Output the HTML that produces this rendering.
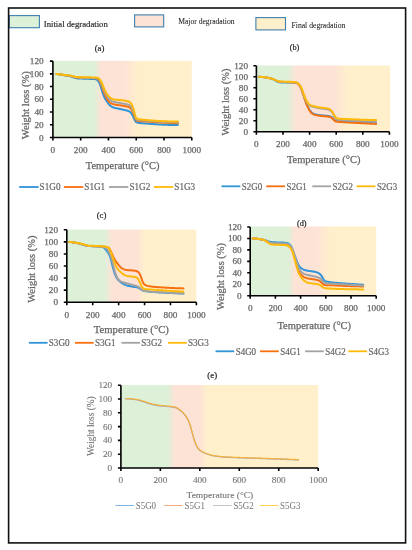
<!DOCTYPE html><html><head><meta charset="utf-8"><style>html,body{margin:0;padding:0;background:#fff;}svg{display:block;will-change:transform;font-family:"Liberation Serif",serif;}</style></head><body>
<svg width="412" height="550" viewBox="0 0 412 550" fill="#666666" stroke-width="0">
<rect x="0" y="0" width="412" height="550" fill="#fff"/>
<rect x="9.3" y="15.6" width="30.1" height="12.1" fill="#DDF0D8" stroke="#3E7FB0" stroke-width="1.1"/>
<rect x="134.6" y="14.9" width="29.1" height="12.0" fill="#FDE3D6" stroke="#3E7FB0" stroke-width="1.1"/>
<rect x="255.9" y="17.6" width="29.6" height="12.3" fill="#FFF0CB" stroke="#3E7FB0" stroke-width="1.1"/>
<text x="43.8" y="26.6" font-size="8.7" textLength="64" lengthAdjust="spacingAndGlyphs" fill="#2a2a2a" stroke="#2a2a2a" stroke-width="0.18">Initial degradation</text>
<text x="178.2" y="24.0" font-size="7.6" textLength="56.4" lengthAdjust="spacingAndGlyphs" fill="#1a1a1a" stroke="#1a1a1a" stroke-width="0.05">Major degradation</text>
<text x="291.5" y="27.5" font-size="7.7" textLength="53.8" lengthAdjust="spacingAndGlyphs" fill="#1a1a1a" stroke="#1a1a1a" stroke-width="0.05">Final degradation</text>
<defs><linearGradient id="bga" gradientUnits="userSpaceOnUse" x1="52.9" y1="0" x2="191.8" y2="0"><stop offset="0%" stop-color="#DDF0D8"/><stop offset="29.81%" stop-color="#DDF0D8"/><stop offset="34.85%" stop-color="#FDE3D6"/><stop offset="51.91%" stop-color="#FDE3D6"/><stop offset="61.99%" stop-color="#FFF0CB"/><stop offset="100%" stop-color="#FFF0CB"/></linearGradient></defs>
<rect x="52.9" y="60.9" width="138.90" height="76.60" fill="url(#bga)"/>
<path d="M56.37,73.88 L56.98,73.94 L57.59,74.02 L58.20,74.11 L58.81,74.21 L59.42,74.30 L60.03,74.40 L60.64,74.50 L61.25,74.61 L61.86,74.71 L62.46,74.82 L63.07,74.93 L63.68,75.04 L64.29,75.15 L64.90,75.26 L65.51,75.37 L66.12,75.49 L66.73,75.60 L67.34,75.72 L67.95,75.84 L68.56,75.95 L69.17,76.08 L69.78,76.20 L70.38,76.33 L70.99,76.48 L71.60,76.63 L72.21,76.82 L72.82,77.03 L73.43,77.26 L74.04,77.51 L74.65,77.75 L75.26,77.96 L75.87,78.12 L76.48,78.24 L77.09,78.32 L77.69,78.38 L78.30,78.42 L78.91,78.46 L79.52,78.50 L80.13,78.53 L80.74,78.55 L81.35,78.58 L81.96,78.60 L82.57,78.62 L83.18,78.64 L83.79,78.66 L84.40,78.68 L85.01,78.70 L85.61,78.72 L86.22,78.74 L86.83,78.77 L87.44,78.79 L88.05,78.82 L88.66,78.84 L89.27,78.86 L89.88,78.88 L90.49,78.90 L91.10,78.91 L91.71,78.93 L92.32,78.95 L92.93,78.98 L93.53,79.01 L94.14,79.04 L94.75,79.09 L95.36,79.17 L95.97,79.31 L96.58,79.57 L97.19,79.99 L97.80,80.59 L98.41,81.35 L99.02,82.30 L99.63,83.50 L100.24,85.04 L100.84,86.89 L101.45,88.93 L102.06,90.97 L102.67,92.86 L103.28,94.58 L103.89,96.13 L104.50,97.50 L105.11,98.70 L105.72,99.74 L106.33,100.67 L106.94,101.55 L107.55,102.41 L108.16,103.26 L108.76,104.05 L109.37,104.76 L109.98,105.37 L110.59,105.88 L111.20,106.32 L111.81,106.69 L112.42,107.01 L113.03,107.28 L113.64,107.50 L114.25,107.70 L114.86,107.88 L115.47,108.04 L116.08,108.18 L116.68,108.32 L117.29,108.44 L117.90,108.56 L118.51,108.68 L119.12,108.80 L119.73,108.91 L120.34,109.04 L120.95,109.17 L121.56,109.30 L122.17,109.44 L122.78,109.59 L123.39,109.73 L123.99,109.86 L124.60,109.99 L125.21,110.13 L125.82,110.27 L126.43,110.41 L127.04,110.58 L127.65,110.76 L128.26,110.98 L128.87,111.23 L129.48,111.54 L130.09,111.96 L130.70,112.56 L131.31,113.35 L131.91,114.32 L132.52,115.41 L133.13,116.60 L133.74,117.88 L134.35,119.23 L134.96,120.50 L135.57,121.50 L136.18,122.14 L136.79,122.48 L137.40,122.66 L138.01,122.79 L138.62,122.88 L139.23,122.96 L139.83,123.03 L140.44,123.09 L141.05,123.14 L141.66,123.19 L142.27,123.23 L142.88,123.28 L143.49,123.33 L144.10,123.38 L144.71,123.43 L145.32,123.48 L145.93,123.52 L146.54,123.57 L147.14,123.62 L147.75,123.67 L148.36,123.72 L148.97,123.76 L149.58,123.81 L150.19,123.86 L150.80,123.90 L151.41,123.95 L152.02,123.99 L152.63,124.04 L153.24,124.08 L153.85,124.12 L154.46,124.16 L155.06,124.21 L155.67,124.25 L156.28,124.29 L156.89,124.33 L157.50,124.37 L158.11,124.40 L158.72,124.44 L159.33,124.48 L159.94,124.51 L160.55,124.55 L161.16,124.58 L161.77,124.62 L162.38,124.65 L162.98,124.68 L163.59,124.71 L164.20,124.74 L164.81,124.77 L165.42,124.79 L166.03,124.82 L166.64,124.84 L167.25,124.87 L167.86,124.89 L168.47,124.91 L169.08,124.93 L169.69,124.95 L170.29,124.97 L170.90,124.99 L171.51,125.00 L172.12,125.02 L172.73,125.03 L173.34,125.04 L173.95,125.05 L174.56,125.06 L175.17,125.07 L175.78,125.07 L176.39,125.08 L177.00,125.08 L177.91,125.08" fill="none" stroke="#3094D8" stroke-width="2.0" stroke-linejoin="round" stroke-linecap="round"/>
<path d="M56.37,73.88 L56.98,73.94 L57.59,74.03 L58.20,74.12 L58.81,74.21 L59.42,74.30 L60.03,74.40 L60.64,74.49 L61.25,74.58 L61.86,74.68 L62.46,74.77 L63.07,74.86 L63.68,74.96 L64.29,75.05 L64.90,75.14 L65.51,75.23 L66.12,75.32 L66.73,75.41 L67.34,75.50 L67.95,75.58 L68.56,75.67 L69.17,75.75 L69.78,75.83 L70.38,75.93 L70.99,76.03 L71.60,76.15 L72.21,76.30 L72.82,76.48 L73.43,76.69 L74.04,76.92 L74.65,77.15 L75.26,77.35 L75.87,77.50 L76.48,77.61 L77.09,77.67 L77.69,77.71 L78.30,77.74 L78.91,77.76 L79.52,77.78 L80.13,77.80 L80.74,77.82 L81.35,77.83 L81.96,77.84 L82.57,77.85 L83.18,77.87 L83.79,77.88 L84.40,77.89 L85.01,77.90 L85.61,77.92 L86.22,77.93 L86.83,77.95 L87.44,77.97 L88.05,77.99 L88.66,78.00 L89.27,78.02 L89.88,78.04 L90.49,78.05 L91.10,78.07 L91.71,78.09 L92.32,78.11 L92.93,78.13 L93.53,78.15 L94.14,78.18 L94.75,78.22 L95.36,78.26 L95.97,78.31 L96.58,78.38 L97.19,78.54 L97.80,78.85 L98.41,79.40 L99.02,80.18 L99.63,81.17 L100.24,82.33 L100.84,83.66 L101.45,85.20 L102.06,86.94 L102.67,88.78 L103.28,90.60 L103.89,92.31 L104.50,93.88 L105.11,95.33 L105.72,96.64 L106.33,97.81 L106.94,98.86 L107.55,99.80 L108.16,100.64 L108.76,101.37 L109.37,101.99 L109.98,102.49 L110.59,102.91 L111.20,103.27 L111.81,103.58 L112.42,103.84 L113.03,104.07 L113.64,104.26 L114.25,104.43 L114.86,104.56 L115.47,104.68 L116.08,104.79 L116.68,104.88 L117.29,104.97 L117.90,105.05 L118.51,105.12 L119.12,105.20 L119.73,105.27 L120.34,105.36 L120.95,105.44 L121.56,105.54 L122.17,105.64 L122.78,105.74 L123.39,105.85 L123.99,105.95 L124.60,106.06 L125.21,106.17 L125.82,106.29 L126.43,106.42 L127.04,106.56 L127.65,106.73 L128.26,106.92 L128.87,107.14 L129.48,107.43 L130.09,107.83 L130.70,108.42 L131.31,109.24 L131.91,110.25 L132.52,111.44 L133.13,112.77 L133.74,114.29 L134.35,115.98 L134.96,117.68 L135.57,119.10 L136.18,120.05 L136.79,120.55 L137.40,120.78 L138.01,120.89 L138.62,120.96 L139.23,121.01 L139.83,121.06 L140.44,121.10 L141.05,121.14 L141.66,121.17 L142.27,121.21 L142.88,121.25 L143.49,121.29 L144.10,121.33 L144.71,121.38 L145.32,121.42 L145.93,121.47 L146.54,121.51 L147.14,121.56 L147.75,121.60 L148.36,121.65 L148.97,121.69 L149.58,121.74 L150.19,121.78 L150.80,121.82 L151.41,121.87 L152.02,121.91 L152.63,121.95 L153.24,122.00 L153.85,122.04 L154.46,122.08 L155.06,122.12 L155.67,122.16 L156.28,122.20 L156.89,122.24 L157.50,122.28 L158.11,122.32 L158.72,122.36 L159.33,122.40 L159.94,122.44 L160.55,122.47 L161.16,122.51 L161.77,122.55 L162.38,122.58 L162.98,122.62 L163.59,122.66 L164.20,122.69 L164.81,122.72 L165.42,122.76 L166.03,122.79 L166.64,122.82 L167.25,122.85 L167.86,122.89 L168.47,122.92 L169.08,122.95 L169.69,122.98 L170.29,123.00 L170.90,123.03 L171.51,123.06 L172.12,123.09 L172.73,123.11 L173.34,123.14 L173.95,123.16 L174.56,123.19 L175.17,123.21 L175.78,123.23 L176.39,123.25 L177.00,123.27 L177.91,123.29" fill="none" stroke="#F7700F" stroke-width="2.0" stroke-linejoin="round" stroke-linecap="round"/>
<path d="M56.37,73.89 L56.98,73.96 L57.59,74.04 L58.20,74.14 L58.81,74.24 L59.42,74.34 L60.03,74.43 L60.64,74.53 L61.25,74.62 L61.86,74.72 L62.46,74.81 L63.07,74.90 L63.68,74.99 L64.29,75.08 L64.90,75.16 L65.51,75.25 L66.12,75.33 L66.73,75.41 L67.34,75.49 L67.95,75.56 L68.56,75.63 L69.17,75.70 L69.78,75.77 L70.38,75.84 L70.99,75.93 L71.60,76.03 L72.21,76.16 L72.82,76.33 L73.43,76.53 L74.04,76.75 L74.65,76.97 L75.26,77.16 L75.87,77.31 L76.48,77.42 L77.09,77.48 L77.69,77.52 L78.30,77.55 L78.91,77.57 L79.52,77.59 L80.13,77.61 L80.74,77.62 L81.35,77.64 L81.96,77.65 L82.57,77.66 L83.18,77.67 L83.79,77.69 L84.40,77.70 L85.01,77.71 L85.61,77.72 L86.22,77.74 L86.83,77.76 L87.44,77.78 L88.05,77.79 L88.66,77.81 L89.27,77.83 L89.88,77.85 L90.49,77.87 L91.10,77.88 L91.71,77.90 L92.32,77.92 L92.93,77.94 L93.53,77.97 L94.14,77.99 L94.75,78.03 L95.36,78.06 L95.97,78.11 L96.58,78.16 L97.19,78.24 L97.80,78.41 L98.41,78.75 L99.02,79.37 L99.63,80.26 L100.24,81.37 L100.84,82.63 L101.45,83.97 L102.06,85.39 L102.67,86.90 L103.28,88.45 L103.89,89.96 L104.50,91.37 L105.11,92.69 L105.72,93.92 L106.33,95.05 L106.94,96.08 L107.55,96.99 L108.16,97.81 L108.76,98.54 L109.37,99.20 L109.98,99.80 L110.59,100.32 L111.20,100.74 L111.81,101.08 L112.42,101.35 L113.03,101.57 L113.64,101.75 L114.25,101.92 L114.86,102.06 L115.47,102.20 L116.08,102.32 L116.68,102.43 L117.29,102.54 L117.90,102.64 L118.51,102.74 L119.12,102.84 L119.73,102.94 L120.34,103.04 L120.95,103.16 L121.56,103.27 L122.17,103.40 L122.78,103.52 L123.39,103.65 L123.99,103.76 L124.60,103.87 L125.21,103.98 L125.82,104.10 L126.43,104.22 L127.04,104.36 L127.65,104.52 L128.26,104.70 L128.87,104.92 L129.48,105.21 L130.09,105.62 L130.70,106.23 L131.31,107.08 L131.91,108.15 L132.52,109.41 L133.13,110.85 L133.74,112.52 L134.35,114.40 L134.96,116.31 L135.57,117.93 L136.18,119.01 L136.79,119.59 L137.40,119.86 L138.01,119.99 L138.62,120.08 L139.23,120.14 L139.83,120.20 L140.44,120.25 L141.05,120.29 L141.66,120.33 L142.27,120.37 L142.88,120.42 L143.49,120.46 L144.10,120.51 L144.71,120.56 L145.32,120.61 L145.93,120.66 L146.54,120.71 L147.14,120.75 L147.75,120.80 L148.36,120.85 L148.97,120.90 L149.58,120.94 L150.19,120.99 L150.80,121.04 L151.41,121.08 L152.02,121.13 L152.63,121.18 L153.24,121.22 L153.85,121.27 L154.46,121.31 L155.06,121.35 L155.67,121.40 L156.28,121.44 L156.89,121.48 L157.50,121.52 L158.11,121.56 L158.72,121.60 L159.33,121.64 L159.94,121.68 L160.55,121.72 L161.16,121.76 L161.77,121.79 L162.38,121.83 L162.98,121.86 L163.59,121.90 L164.20,121.93 L164.81,121.96 L165.42,122.00 L166.03,122.03 L166.64,122.06 L167.25,122.09 L167.86,122.11 L168.47,122.14 L169.08,122.17 L169.69,122.19 L170.29,122.21 L170.90,122.24 L171.51,122.26 L172.12,122.28 L172.73,122.30 L173.34,122.32 L173.95,122.33 L174.56,122.35 L175.17,122.36 L175.78,122.37 L176.39,122.39 L177.00,122.40 L177.91,122.41" fill="none" stroke="#A3A3A3" stroke-width="2.0" stroke-linejoin="round" stroke-linecap="round"/>
<path d="M56.37,73.88 L56.98,73.93 L57.59,74.01 L58.20,74.09 L58.81,74.17 L59.42,74.26 L60.03,74.34 L60.64,74.42 L61.25,74.51 L61.86,74.59 L62.46,74.67 L63.07,74.75 L63.68,74.83 L64.29,74.91 L64.90,74.99 L65.51,75.07 L66.12,75.15 L66.73,75.22 L67.34,75.30 L67.95,75.37 L68.56,75.44 L69.17,75.51 L69.78,75.58 L70.38,75.66 L70.99,75.74 L71.60,75.84 L72.21,75.96 L72.82,76.10 L73.43,76.27 L74.04,76.45 L74.65,76.63 L75.26,76.78 L75.87,76.90 L76.48,76.98 L77.09,77.03 L77.69,77.06 L78.30,77.08 L78.91,77.10 L79.52,77.12 L80.13,77.13 L80.74,77.14 L81.35,77.15 L81.96,77.16 L82.57,77.17 L83.18,77.18 L83.79,77.19 L84.40,77.20 L85.01,77.21 L85.61,77.22 L86.22,77.24 L86.83,77.25 L87.44,77.27 L88.05,77.28 L88.66,77.30 L89.27,77.32 L89.88,77.33 L90.49,77.35 L91.10,77.37 L91.71,77.39 L92.32,77.41 L92.93,77.43 L93.53,77.45 L94.14,77.48 L94.75,77.52 L95.36,77.55 L95.97,77.60 L96.58,77.65 L97.19,77.72 L97.80,77.86 L98.41,78.12 L99.02,78.56 L99.63,79.22 L100.24,80.06 L100.84,81.05 L101.45,82.18 L102.06,83.48 L102.67,84.94 L103.28,86.50 L103.89,88.01 L104.50,89.41 L105.11,90.69 L105.72,91.86 L106.33,92.94 L106.94,93.92 L107.55,94.79 L108.16,95.56 L108.76,96.23 L109.37,96.85 L109.98,97.42 L110.59,97.93 L111.20,98.37 L111.81,98.74 L112.42,99.03 L113.03,99.24 L113.64,99.38 L114.25,99.49 L114.86,99.57 L115.47,99.64 L116.08,99.70 L116.68,99.76 L117.29,99.80 L117.90,99.85 L118.51,99.89 L119.12,99.93 L119.73,99.98 L120.34,100.03 L120.95,100.09 L121.56,100.16 L122.17,100.24 L122.78,100.32 L123.39,100.41 L123.99,100.50 L124.60,100.60 L125.21,100.71 L125.82,100.83 L126.43,100.97 L127.04,101.12 L127.65,101.29 L128.26,101.49 L128.87,101.72 L129.48,102.01 L130.09,102.41 L130.70,103.00 L131.31,103.82 L131.91,104.87 L132.52,106.17 L133.13,107.78 L133.74,109.79 L134.35,112.19 L134.96,114.64 L135.57,116.64 L136.18,117.91 L136.79,118.57 L137.40,118.89 L138.01,119.06 L138.62,119.19 L139.23,119.28 L139.83,119.36 L140.44,119.43 L141.05,119.50 L141.66,119.57 L142.27,119.63 L142.88,119.70 L143.49,119.76 L144.10,119.82 L144.71,119.88 L145.32,119.94 L145.93,120.00 L146.54,120.05 L147.14,120.11 L147.75,120.16 L148.36,120.22 L148.97,120.27 L149.58,120.32 L150.19,120.37 L150.80,120.42 L151.41,120.47 L152.02,120.52 L152.63,120.56 L153.24,120.61 L153.85,120.65 L154.46,120.70 L155.06,120.74 L155.67,120.78 L156.28,120.82 L156.89,120.86 L157.50,120.90 L158.11,120.93 L158.72,120.97 L159.33,121.00 L159.94,121.03 L160.55,121.07 L161.16,121.10 L161.77,121.13 L162.38,121.16 L162.98,121.18 L163.59,121.21 L164.20,121.24 L164.81,121.26 L165.42,121.28 L166.03,121.31 L166.64,121.33 L167.25,121.35 L167.86,121.37 L168.47,121.38 L169.08,121.40 L169.69,121.42 L170.29,121.43 L170.90,121.44 L171.51,121.46 L172.12,121.47 L172.73,121.48 L173.34,121.49 L173.95,121.49 L174.56,121.50 L175.17,121.51 L175.78,121.51 L176.39,121.52 L177.00,121.52 L177.91,121.52" fill="none" stroke="#FFBA08" stroke-width="2.0" stroke-linejoin="round" stroke-linecap="round"/>
<path d="M52.9,61.1 L52.9,137.5 L191.8,137.5" fill="none" stroke="#000" stroke-width="1.6"/>
<path d="M49.9,137.50 L52.9,137.50 M49.9,124.77 L52.9,124.77 M49.9,112.03 L52.9,112.03 M49.9,99.30 L52.9,99.30 M49.9,86.57 L52.9,86.57 M49.9,73.83 L52.9,73.83 M49.9,61.10 L52.9,61.10 M52.90,137.5 L52.90,140.5 M80.68,137.5 L80.68,140.5 M108.46,137.5 L108.46,140.5 M136.24,137.5 L136.24,140.5 M164.02,137.5 L164.02,140.5 M191.80,137.5 L191.80,140.5" stroke="#000" stroke-width="1.6"/>
<text x="43.6" y="140.54" text-anchor="end" font-size="9.2" fill="#666666" stroke="#666666" stroke-width="0.25">0</text>
<text x="43.6" y="127.80" text-anchor="end" font-size="9.2" fill="#666666" stroke="#666666" stroke-width="0.25">20</text>
<text x="43.6" y="115.07" text-anchor="end" font-size="9.2" fill="#666666" stroke="#666666" stroke-width="0.25">40</text>
<text x="43.6" y="102.34" text-anchor="end" font-size="9.2" fill="#666666" stroke="#666666" stroke-width="0.25">60</text>
<text x="43.6" y="89.60" text-anchor="end" font-size="9.2" fill="#666666" stroke="#666666" stroke-width="0.25">80</text>
<text x="43.6" y="76.87" text-anchor="end" font-size="9.2" fill="#666666" stroke="#666666" stroke-width="0.25">100</text>
<text x="43.6" y="64.14" text-anchor="end" font-size="9.2" fill="#666666" stroke="#666666" stroke-width="0.25">120</text>
<text x="52.90" y="153.1" text-anchor="middle" font-size="9.2" fill="#666666" stroke="#666666" stroke-width="0.25">0</text>
<text x="80.68" y="153.1" text-anchor="middle" font-size="9.2" fill="#666666" stroke="#666666" stroke-width="0.25">200</text>
<text x="108.46" y="153.1" text-anchor="middle" font-size="9.2" fill="#666666" stroke="#666666" stroke-width="0.25">400</text>
<text x="136.24" y="153.1" text-anchor="middle" font-size="9.2" fill="#666666" stroke="#666666" stroke-width="0.25">600</text>
<text x="164.02" y="153.1" text-anchor="middle" font-size="9.2" fill="#666666" stroke="#666666" stroke-width="0.25">800</text>
<text x="191.80" y="153.1" text-anchor="middle" font-size="9.2" fill="#666666" stroke="#666666" stroke-width="0.25">1000</text>
<text transform="translate(28.87,105.2) rotate(-90)" x="0" y="0" text-anchor="middle" font-size="10.5" fill="#666666" stroke="#666666" stroke-width="0.25" textLength="68" lengthAdjust="spacingAndGlyphs">Weight loss (%)</text>
<text x="85.8" y="169.4" font-size="10.5" fill="#666666" stroke="#666666" stroke-width="0.25" textLength="73.60" lengthAdjust="spacingAndGlyphs">Temperature (°C)</text>
<text x="94.65" y="50.8" font-size="9" fill="#222" stroke="#222" stroke-width="0.2" textLength="9.7" lengthAdjust="spacingAndGlyphs">(a)</text>
<line x1="19.2" y1="187" x2="38.599999999999994" y2="187" stroke="#3094D8" stroke-width="1.8"/>
<text x="39.599999999999994" y="190.23" font-size="9.5" fill="#666666" stroke="#666666" stroke-width="0.2" textLength="20.9" lengthAdjust="spacingAndGlyphs">S1G0</text>
<line x1="63.9" y1="187" x2="83.3" y2="187" stroke="#F7700F" stroke-width="1.8"/>
<text x="84.3" y="190.23" font-size="9.5" fill="#666666" stroke="#666666" stroke-width="0.2" textLength="20.9" lengthAdjust="spacingAndGlyphs">S1G1</text>
<line x1="109" y1="187" x2="128.4" y2="187" stroke="#A3A3A3" stroke-width="1.8"/>
<text x="129.4" y="190.23" font-size="9.5" fill="#666666" stroke="#666666" stroke-width="0.2" textLength="20.9" lengthAdjust="spacingAndGlyphs">S1G2</text>
<line x1="153.9" y1="187" x2="173.3" y2="187" stroke="#FFBA08" stroke-width="1.8"/>
<text x="174.3" y="190.23" font-size="9.5" fill="#666666" stroke="#666666" stroke-width="0.2" textLength="20.9" lengthAdjust="spacingAndGlyphs">S1G3</text>
<defs><linearGradient id="bgb" gradientUnits="userSpaceOnUse" x1="256.4" y1="0" x2="389.4" y2="0"><stop offset="0%" stop-color="#DDF0D8"/><stop offset="23.38%" stop-color="#DDF0D8"/><stop offset="30.15%" stop-color="#FDE3D6"/><stop offset="58.72%" stop-color="#FDE3D6"/><stop offset="68.50%" stop-color="#FFF0CB"/><stop offset="100%" stop-color="#FFF0CB"/></linearGradient></defs>
<rect x="256.4" y="65.5" width="133.60" height="66.30" fill="url(#bgb)"/>
<path d="M259.06,76.81 L259.65,76.82 L260.23,76.84 L260.82,76.87 L261.41,76.91 L261.99,76.96 L262.58,77.01 L263.17,77.08 L263.75,77.15 L264.34,77.23 L264.93,77.31 L265.51,77.39 L266.10,77.48 L266.69,77.58 L267.27,77.67 L267.86,77.78 L268.45,77.91 L269.03,78.05 L269.62,78.20 L270.21,78.37 L270.79,78.55 L271.38,78.73 L271.97,78.93 L272.55,79.14 L273.14,79.36 L273.73,79.60 L274.31,79.89 L274.90,80.21 L275.49,80.57 L276.07,80.94 L276.66,81.31 L277.25,81.64 L277.83,81.92 L278.42,82.12 L279.01,82.24 L279.59,82.31 L280.18,82.35 L280.77,82.38 L281.35,82.40 L281.94,82.42 L282.53,82.44 L283.11,82.46 L283.70,82.47 L284.29,82.48 L284.87,82.49 L285.46,82.50 L286.05,82.51 L286.63,82.52 L287.22,82.53 L287.81,82.54 L288.39,82.55 L288.98,82.56 L289.57,82.57 L290.15,82.58 L290.74,82.59 L291.33,82.60 L291.91,82.61 L292.50,82.61 L293.09,82.62 L293.67,82.63 L294.26,82.64 L294.85,82.65 L295.43,82.67 L296.02,82.73 L296.61,82.86 L297.19,83.12 L297.78,83.52 L298.37,84.05 L298.95,84.71 L299.54,85.47 L300.13,86.35 L300.71,87.41 L301.30,88.71 L301.89,90.24 L302.47,91.93 L303.06,93.70 L303.65,95.47 L304.23,97.22 L304.82,98.94 L305.41,100.64 L305.99,102.29 L306.58,103.84 L307.17,105.27 L307.75,106.58 L308.34,107.78 L308.93,108.87 L309.51,109.85 L310.10,110.72 L310.69,111.49 L311.27,112.16 L311.86,112.70 L312.45,113.11 L313.03,113.44 L313.62,113.71 L314.21,113.94 L314.79,114.14 L315.38,114.32 L315.97,114.48 L316.55,114.62 L317.14,114.75 L317.73,114.87 L318.31,114.97 L318.90,115.06 L319.49,115.15 L320.07,115.22 L320.66,115.28 L321.25,115.34 L321.83,115.39 L322.42,115.44 L323.01,115.49 L323.59,115.53 L324.18,115.58 L324.77,115.62 L325.35,115.67 L325.94,115.73 L326.53,115.79 L327.11,115.86 L327.70,115.94 L328.29,116.04 L328.87,116.15 L329.46,116.29 L330.05,116.47 L330.63,116.70 L331.22,116.99 L331.81,117.35 L332.39,117.82 L332.98,118.43 L333.57,119.13 L334.15,119.81 L334.74,120.35 L335.33,120.70 L335.91,120.90 L336.50,121.02 L337.09,121.11 L337.67,121.18 L338.26,121.24 L338.85,121.30 L339.43,121.34 L340.02,121.38 L340.61,121.42 L341.19,121.46 L341.78,121.50 L342.37,121.54 L342.95,121.58 L343.54,121.62 L344.13,121.66 L344.71,121.70 L345.30,121.74 L345.89,121.77 L346.47,121.81 L347.06,121.84 L347.65,121.88 L348.23,121.91 L348.82,121.94 L349.41,121.98 L349.99,122.01 L350.58,122.04 L351.17,122.07 L351.75,122.10 L352.34,122.14 L352.93,122.17 L353.51,122.20 L354.10,122.23 L354.69,122.26 L355.27,122.30 L355.86,122.33 L356.45,122.36 L357.03,122.39 L357.62,122.42 L358.21,122.45 L358.79,122.48 L359.38,122.51 L359.97,122.54 L360.55,122.57 L361.14,122.60 L361.73,122.63 L362.31,122.66 L362.90,122.69 L363.49,122.72 L364.07,122.75 L364.66,122.77 L365.25,122.80 L365.83,122.83 L366.42,122.86 L367.01,122.89 L367.59,122.91 L368.18,122.94 L368.77,122.97 L369.35,122.99 L369.94,123.02 L370.53,123.05 L371.11,123.07 L371.70,123.10 L372.29,123.12 L372.87,123.15 L373.46,123.17 L374.05,123.19 L374.63,123.22 L375.22,123.24 L376.10,123.26" fill="none" stroke="#3094D8" stroke-width="2.0" stroke-linejoin="round" stroke-linecap="round"/>
<path d="M259.06,76.81 L259.65,76.83 L260.23,76.86 L260.82,76.89 L261.41,76.94 L261.99,76.99 L262.58,77.04 L263.17,77.11 L263.75,77.18 L264.34,77.25 L264.93,77.33 L265.51,77.41 L266.10,77.49 L266.69,77.58 L267.27,77.67 L267.86,77.77 L268.45,77.88 L269.03,78.00 L269.62,78.13 L270.21,78.27 L270.79,78.42 L271.38,78.58 L271.97,78.75 L272.55,78.92 L273.14,79.11 L273.73,79.32 L274.31,79.57 L274.90,79.85 L275.49,80.16 L276.07,80.49 L276.66,80.82 L277.25,81.12 L277.83,81.37 L278.42,81.57 L279.01,81.70 L279.59,81.79 L280.18,81.85 L280.77,81.89 L281.35,81.93 L281.94,81.97 L282.53,82.00 L283.11,82.03 L283.70,82.05 L284.29,82.07 L284.87,82.09 L285.46,82.11 L286.05,82.13 L286.63,82.16 L287.22,82.18 L287.81,82.20 L288.39,82.23 L288.98,82.26 L289.57,82.30 L290.15,82.33 L290.74,82.36 L291.33,82.40 L291.91,82.43 L292.50,82.47 L293.09,82.51 L293.67,82.55 L294.26,82.60 L294.85,82.66 L295.43,82.74 L296.02,82.86 L296.61,83.05 L297.19,83.34 L297.78,83.76 L298.37,84.31 L298.95,84.97 L299.54,85.74 L300.13,86.63 L300.71,87.72 L301.30,89.06 L301.89,90.63 L302.47,92.37 L303.06,94.19 L303.65,95.99 L304.23,97.76 L304.82,99.50 L305.41,101.20 L305.99,102.85 L306.58,104.39 L307.17,105.82 L307.75,107.13 L308.34,108.33 L308.93,109.42 L309.51,110.41 L310.10,111.30 L310.69,112.10 L311.27,112.78 L311.86,113.34 L312.45,113.77 L313.03,114.09 L313.62,114.35 L314.21,114.58 L314.79,114.77 L315.38,114.95 L315.97,115.10 L316.55,115.24 L317.14,115.36 L317.73,115.48 L318.31,115.58 L318.90,115.67 L319.49,115.75 L320.07,115.82 L320.66,115.89 L321.25,115.95 L321.83,116.00 L322.42,116.05 L323.01,116.09 L323.59,116.14 L324.18,116.18 L324.77,116.23 L325.35,116.28 L325.94,116.34 L326.53,116.40 L327.11,116.47 L327.70,116.55 L328.29,116.64 L328.87,116.75 L329.46,116.89 L330.05,117.07 L330.63,117.29 L331.22,117.56 L331.81,117.91 L332.39,118.37 L332.98,118.98 L333.57,119.67 L334.15,120.35 L334.74,120.90 L335.33,121.25 L335.91,121.45 L336.50,121.57 L337.09,121.66 L337.67,121.73 L338.26,121.79 L338.85,121.85 L339.43,121.89 L340.02,121.93 L340.61,121.97 L341.19,122.01 L341.78,122.05 L342.37,122.09 L342.95,122.13 L343.54,122.17 L344.13,122.21 L344.71,122.25 L345.30,122.29 L345.89,122.32 L346.47,122.36 L347.06,122.39 L347.65,122.43 L348.23,122.46 L348.82,122.49 L349.41,122.52 L349.99,122.56 L350.58,122.59 L351.17,122.63 L351.75,122.66 L352.34,122.69 L352.93,122.73 L353.51,122.76 L354.10,122.79 L354.69,122.82 L355.27,122.86 L355.86,122.89 L356.45,122.92 L357.03,122.96 L357.62,122.99 L358.21,123.02 L358.79,123.05 L359.38,123.09 L359.97,123.12 L360.55,123.15 L361.14,123.18 L361.73,123.21 L362.31,123.24 L362.90,123.28 L363.49,123.31 L364.07,123.34 L364.66,123.37 L365.25,123.40 L365.83,123.43 L366.42,123.46 L367.01,123.49 L367.59,123.52 L368.18,123.55 L368.77,123.58 L369.35,123.61 L369.94,123.64 L370.53,123.67 L371.11,123.70 L371.70,123.73 L372.29,123.75 L372.87,123.78 L373.46,123.81 L374.05,123.84 L374.63,123.87 L375.22,123.89 L376.10,123.92" fill="none" stroke="#F7700F" stroke-width="2.0" stroke-linejoin="round" stroke-linecap="round"/>
<path d="M259.06,76.81 L259.65,76.83 L260.23,76.86 L260.82,76.89 L261.41,76.94 L261.99,76.99 L262.58,77.04 L263.17,77.11 L263.75,77.18 L264.34,77.25 L264.93,77.33 L265.51,77.41 L266.10,77.49 L266.69,77.58 L267.27,77.67 L267.86,77.77 L268.45,77.88 L269.03,78.00 L269.62,78.13 L270.21,78.27 L270.79,78.42 L271.38,78.58 L271.97,78.75 L272.55,78.92 L273.14,79.11 L273.73,79.33 L274.31,79.57 L274.90,79.86 L275.49,80.18 L276.07,80.52 L276.66,80.85 L277.25,81.15 L277.83,81.40 L278.42,81.58 L279.01,81.70 L279.59,81.76 L280.18,81.80 L280.77,81.82 L281.35,81.84 L281.94,81.86 L282.53,81.87 L283.11,81.88 L283.70,81.89 L284.29,81.90 L284.87,81.91 L285.46,81.92 L286.05,81.93 L286.63,81.94 L287.22,81.95 L287.81,81.97 L288.39,81.98 L288.98,82.00 L289.57,82.02 L290.15,82.05 L290.74,82.07 L291.33,82.10 L291.91,82.13 L292.50,82.17 L293.09,82.21 L293.67,82.26 L294.26,82.32 L294.85,82.38 L295.43,82.47 L296.02,82.58 L296.61,82.76 L297.19,83.04 L297.78,83.43 L298.37,83.94 L298.95,84.55 L299.54,85.26 L300.13,86.09 L300.71,87.11 L301.30,88.35 L301.89,89.82 L302.47,91.43 L303.06,93.09 L303.65,94.73 L304.23,96.31 L304.82,97.83 L305.41,99.29 L305.99,100.65 L306.58,101.84 L307.17,102.84 L307.75,103.69 L308.34,104.40 L308.93,104.98 L309.51,105.44 L310.10,105.79 L310.69,106.08 L311.27,106.32 L311.86,106.53 L312.45,106.72 L313.03,106.90 L313.62,107.06 L314.21,107.20 L314.79,107.34 L315.38,107.47 L315.97,107.59 L316.55,107.70 L317.14,107.82 L317.73,107.94 L318.31,108.05 L318.90,108.16 L319.49,108.26 L320.07,108.35 L320.66,108.43 L321.25,108.50 L321.83,108.57 L322.42,108.64 L323.01,108.71 L323.59,108.77 L324.18,108.84 L324.77,108.92 L325.35,109.00 L325.94,109.09 L326.53,109.19 L327.11,109.30 L327.70,109.43 L328.29,109.58 L328.87,109.76 L329.46,110.01 L330.05,110.34 L330.63,110.76 L331.22,111.29 L331.81,111.94 L332.39,112.74 L332.98,113.73 L333.57,114.86 L334.15,116.03 L334.74,117.13 L335.33,118.08 L335.91,118.79 L336.50,119.25 L337.09,119.51 L337.67,119.65 L338.26,119.74 L338.85,119.83 L339.43,119.90 L340.02,119.96 L340.61,120.02 L341.19,120.08 L341.78,120.12 L342.37,120.16 L342.95,120.20 L343.54,120.23 L344.13,120.26 L344.71,120.29 L345.30,120.32 L345.89,120.34 L346.47,120.37 L347.06,120.39 L347.65,120.41 L348.23,120.44 L348.82,120.46 L349.41,120.49 L349.99,120.52 L350.58,120.56 L351.17,120.59 L351.75,120.62 L352.34,120.66 L352.93,120.69 L353.51,120.72 L354.10,120.75 L354.69,120.79 L355.27,120.82 L355.86,120.85 L356.45,120.88 L357.03,120.91 L357.62,120.94 L358.21,120.97 L358.79,121.00 L359.38,121.03 L359.97,121.06 L360.55,121.09 L361.14,121.12 L361.73,121.14 L362.31,121.17 L362.90,121.20 L363.49,121.22 L364.07,121.25 L364.66,121.27 L365.25,121.30 L365.83,121.32 L366.42,121.35 L367.01,121.37 L367.59,121.39 L368.18,121.41 L368.77,121.43 L369.35,121.45 L369.94,121.47 L370.53,121.49 L371.11,121.51 L371.70,121.52 L372.29,121.54 L372.87,121.56 L373.46,121.57 L374.05,121.58 L374.63,121.60 L375.22,121.61 L376.10,121.62" fill="none" stroke="#A3A3A3" stroke-width="2.0" stroke-linejoin="round" stroke-linecap="round"/>
<path d="M259.06,76.81 L259.65,76.83 L260.23,76.86 L260.82,76.89 L261.41,76.94 L261.99,76.99 L262.58,77.04 L263.17,77.11 L263.75,77.18 L264.34,77.25 L264.93,77.33 L265.51,77.41 L266.10,77.49 L266.69,77.58 L267.27,77.67 L267.86,77.77 L268.45,77.88 L269.03,78.00 L269.62,78.14 L270.21,78.28 L270.79,78.43 L271.38,78.59 L271.97,78.76 L272.55,78.93 L273.14,79.12 L273.73,79.32 L274.31,79.55 L274.90,79.81 L275.49,80.09 L276.07,80.39 L276.66,80.68 L277.25,80.95 L277.83,81.17 L278.42,81.33 L279.01,81.43 L279.59,81.49 L280.18,81.52 L280.77,81.55 L281.35,81.57 L281.94,81.58 L282.53,81.60 L283.11,81.61 L283.70,81.62 L284.29,81.63 L284.87,81.64 L285.46,81.65 L286.05,81.66 L286.63,81.67 L287.22,81.68 L287.81,81.69 L288.39,81.71 L288.98,81.73 L289.57,81.75 L290.15,81.77 L290.74,81.80 L291.33,81.83 L291.91,81.86 L292.50,81.90 L293.09,81.94 L293.67,81.99 L294.26,82.04 L294.85,82.11 L295.43,82.19 L296.02,82.30 L296.61,82.47 L297.19,82.73 L297.78,83.09 L298.37,83.56 L298.95,84.12 L299.54,84.78 L300.13,85.56 L300.71,86.53 L301.30,87.73 L301.89,89.15 L302.47,90.72 L303.06,92.34 L303.65,93.93 L304.23,95.45 L304.82,96.91 L305.41,98.31 L305.99,99.61 L306.58,100.77 L307.17,101.78 L307.75,102.64 L308.34,103.38 L308.93,104.00 L309.51,104.49 L310.10,104.86 L310.69,105.15 L311.27,105.40 L311.86,105.62 L312.45,105.82 L313.03,106.00 L313.62,106.16 L314.21,106.31 L314.79,106.45 L315.38,106.58 L315.97,106.70 L316.55,106.82 L317.14,106.94 L317.73,107.05 L318.31,107.17 L318.90,107.28 L319.49,107.38 L320.07,107.47 L320.66,107.55 L321.25,107.63 L321.83,107.69 L322.42,107.76 L323.01,107.83 L323.59,107.89 L324.18,107.96 L324.77,108.04 L325.35,108.12 L325.94,108.21 L326.53,108.31 L327.11,108.42 L327.70,108.55 L328.29,108.70 L328.87,108.89 L329.46,109.14 L330.05,109.47 L330.63,109.91 L331.22,110.45 L331.81,111.10 L332.39,111.89 L332.98,112.83 L333.57,113.91 L334.15,115.02 L334.74,116.06 L335.33,116.97 L335.91,117.65 L336.50,118.09 L337.09,118.33 L337.67,118.46 L338.26,118.54 L338.85,118.62 L339.43,118.68 L340.02,118.73 L340.61,118.78 L341.19,118.83 L341.78,118.87 L342.37,118.90 L342.95,118.94 L343.54,118.96 L344.13,118.99 L344.71,119.01 L345.30,119.03 L345.89,119.05 L346.47,119.07 L347.06,119.09 L347.65,119.11 L348.23,119.13 L348.82,119.16 L349.41,119.18 L349.99,119.20 L350.58,119.23 L351.17,119.26 L351.75,119.28 L352.34,119.31 L352.93,119.34 L353.51,119.37 L354.10,119.39 L354.69,119.42 L355.27,119.44 L355.86,119.47 L356.45,119.50 L357.03,119.52 L357.62,119.55 L358.21,119.57 L358.79,119.60 L359.38,119.62 L359.97,119.64 L360.55,119.67 L361.14,119.69 L361.73,119.71 L362.31,119.73 L362.90,119.75 L363.49,119.78 L364.07,119.80 L364.66,119.82 L365.25,119.84 L365.83,119.86 L366.42,119.87 L367.01,119.89 L367.59,119.91 L368.18,119.93 L368.77,119.94 L369.35,119.96 L369.94,119.97 L370.53,119.99 L371.11,120.00 L371.70,120.01 L372.29,120.02 L372.87,120.04 L373.46,120.05 L374.05,120.06 L374.63,120.07 L375.22,120.07 L376.10,120.08" fill="none" stroke="#FFBA08" stroke-width="2.0" stroke-linejoin="round" stroke-linecap="round"/>
<path d="M256.4,65.8 L256.4,131.8 L389.4,131.8" fill="none" stroke="#000" stroke-width="1.6"/>
<path d="M253.39999999999998,131.80 L256.4,131.80 M253.39999999999998,120.80 L256.4,120.80 M253.39999999999998,109.80 L256.4,109.80 M253.39999999999998,98.80 L256.4,98.80 M253.39999999999998,87.80 L256.4,87.80 M253.39999999999998,76.80 L256.4,76.80 M253.39999999999998,65.80 L256.4,65.80 M256.40,131.8 L256.40,134.8 M283.00,131.8 L283.00,134.8 M309.60,131.8 L309.60,134.8 M336.20,131.8 L336.20,134.8 M362.80,131.8 L362.80,134.8 M389.40,131.8 L389.40,134.8" stroke="#000" stroke-width="1.6"/>
<text x="248" y="134.84" text-anchor="end" font-size="9.2" fill="#666666" stroke="#666666" stroke-width="0.25">0</text>
<text x="248" y="123.84" text-anchor="end" font-size="9.2" fill="#666666" stroke="#666666" stroke-width="0.25">20</text>
<text x="248" y="112.84" text-anchor="end" font-size="9.2" fill="#666666" stroke="#666666" stroke-width="0.25">40</text>
<text x="248" y="101.84" text-anchor="end" font-size="9.2" fill="#666666" stroke="#666666" stroke-width="0.25">60</text>
<text x="248" y="90.84" text-anchor="end" font-size="9.2" fill="#666666" stroke="#666666" stroke-width="0.25">80</text>
<text x="248" y="79.84" text-anchor="end" font-size="9.2" fill="#666666" stroke="#666666" stroke-width="0.25">100</text>
<text x="248" y="68.84" text-anchor="end" font-size="9.2" fill="#666666" stroke="#666666" stroke-width="0.25">120</text>
<text x="256.40" y="146.9" text-anchor="middle" font-size="9.2" fill="#666666" stroke="#666666" stroke-width="0.25">0</text>
<text x="283.00" y="146.9" text-anchor="middle" font-size="9.2" fill="#666666" stroke="#666666" stroke-width="0.25">200</text>
<text x="309.60" y="146.9" text-anchor="middle" font-size="9.2" fill="#666666" stroke="#666666" stroke-width="0.25">400</text>
<text x="336.20" y="146.9" text-anchor="middle" font-size="9.2" fill="#666666" stroke="#666666" stroke-width="0.25">600</text>
<text x="362.80" y="146.9" text-anchor="middle" font-size="9.2" fill="#666666" stroke="#666666" stroke-width="0.25">800</text>
<text x="389.40" y="146.9" text-anchor="middle" font-size="9.2" fill="#666666" stroke="#666666" stroke-width="0.25">1000</text>
<text transform="translate(228.74,102.1) rotate(-90)" x="0" y="0" text-anchor="middle" font-size="10.4" fill="#666666" stroke="#666666" stroke-width="0.25" textLength="67" lengthAdjust="spacingAndGlyphs">Weight loss (%)</text>
<text x="286.9" y="163.0" font-size="10.5" fill="#666666" stroke="#666666" stroke-width="0.25" textLength="73.60" lengthAdjust="spacingAndGlyphs">Temperature (°C)</text>
<text x="289.65" y="49.8" font-size="9" fill="#222" stroke="#222" stroke-width="0.2" textLength="9.7" lengthAdjust="spacingAndGlyphs">(b)</text>
<line x1="221.5" y1="186.3" x2="240.3" y2="186.3" stroke="#3094D8" stroke-width="1.8"/>
<text x="241.8" y="189.53" font-size="9.5" fill="#666666" stroke="#666666" stroke-width="0.2" textLength="20.3" lengthAdjust="spacingAndGlyphs">S2G0</text>
<line x1="266.2" y1="186.3" x2="285.0" y2="186.3" stroke="#F7700F" stroke-width="1.8"/>
<text x="286.5" y="189.53" font-size="9.5" fill="#666666" stroke="#666666" stroke-width="0.2" textLength="20.3" lengthAdjust="spacingAndGlyphs">S2G1</text>
<line x1="312.3" y1="186.3" x2="331.1" y2="186.3" stroke="#A3A3A3" stroke-width="1.8"/>
<text x="332.6" y="189.53" font-size="9.5" fill="#666666" stroke="#666666" stroke-width="0.2" textLength="20.3" lengthAdjust="spacingAndGlyphs">S2G2</text>
<line x1="356.6" y1="186.3" x2="375.40000000000003" y2="186.3" stroke="#FFBA08" stroke-width="1.8"/>
<text x="376.90000000000003" y="189.53" font-size="9.5" fill="#666666" stroke="#666666" stroke-width="0.2" textLength="20.3" lengthAdjust="spacingAndGlyphs">S2G3</text>
<defs><linearGradient id="bgc" gradientUnits="userSpaceOnUse" x1="66.8" y1="0" x2="196.4" y2="0"><stop offset="0%" stop-color="#DDF0D8"/><stop offset="29.01%" stop-color="#DDF0D8"/><stop offset="35.19%" stop-color="#FDE3D6"/><stop offset="54.55%" stop-color="#FDE3D6"/><stop offset="59.95%" stop-color="#FFF0CB"/><stop offset="100%" stop-color="#FFF0CB"/></linearGradient></defs>
<rect x="66.8" y="229.6" width="129.60" height="72.60" fill="url(#bgc)"/>
<path d="M69.39,241.90 L69.96,241.93 L70.54,241.99 L71.11,242.05 L71.68,242.13 L72.25,242.21 L72.82,242.29 L73.39,242.38 L73.97,242.48 L74.54,242.58 L75.11,242.68 L75.68,242.79 L76.25,242.90 L76.82,243.01 L77.40,243.13 L77.97,243.26 L78.54,243.40 L79.11,243.56 L79.68,243.72 L80.25,243.89 L80.83,244.06 L81.40,244.23 L81.97,244.40 L82.54,244.57 L83.11,244.73 L83.68,244.89 L84.26,245.06 L84.83,245.22 L85.40,245.38 L85.97,245.53 L86.54,245.67 L87.11,245.79 L87.69,245.87 L88.26,245.94 L88.83,245.99 L89.40,246.04 L89.97,246.08 L90.54,246.11 L91.12,246.14 L91.69,246.17 L92.26,246.20 L92.83,246.22 L93.40,246.24 L93.97,246.26 L94.55,246.29 L95.12,246.31 L95.69,246.33 L96.26,246.35 L96.83,246.38 L97.40,246.41 L97.98,246.44 L98.55,246.47 L99.12,246.51 L99.69,246.55 L100.26,246.59 L100.83,246.64 L101.41,246.70 L101.98,246.79 L102.55,246.94 L103.12,247.20 L103.69,247.57 L104.26,248.05 L104.84,248.63 L105.41,249.26 L105.98,249.91 L106.55,250.59 L107.12,251.30 L107.69,252.06 L108.27,252.91 L108.84,253.88 L109.41,255.02 L109.98,256.42 L110.55,258.15 L111.12,260.19 L111.70,262.46 L112.27,264.82 L112.84,267.14 L113.41,269.30 L113.98,271.25 L114.55,272.98 L115.13,274.54 L115.70,275.92 L116.27,277.12 L116.84,278.12 L117.41,278.96 L117.98,279.67 L118.56,280.29 L119.13,280.84 L119.70,281.34 L120.27,281.81 L120.84,282.25 L121.41,282.66 L121.99,283.06 L122.56,283.43 L123.13,283.79 L123.70,284.11 L124.27,284.42 L124.84,284.69 L125.42,284.93 L125.99,285.15 L126.56,285.34 L127.13,285.51 L127.70,285.67 L128.27,285.81 L128.85,285.94 L129.42,286.07 L129.99,286.19 L130.56,286.30 L131.13,286.42 L131.70,286.53 L132.28,286.63 L132.85,286.72 L133.42,286.81 L133.99,286.89 L134.56,286.97 L135.13,287.05 L135.71,287.13 L136.28,287.23 L136.85,287.33 L137.42,287.46 L137.99,287.63 L138.56,287.85 L139.14,288.16 L139.71,288.53 L140.28,288.94 L140.85,289.34 L141.42,289.70 L141.99,290.02 L142.57,290.29 L143.14,290.53 L143.71,290.71 L144.28,290.87 L144.85,290.99 L145.42,291.10 L146.00,291.21 L146.57,291.30 L147.14,291.38 L147.71,291.46 L148.28,291.53 L148.85,291.60 L149.43,291.66 L150.00,291.72 L150.57,291.78 L151.14,291.83 L151.71,291.88 L152.28,291.93 L152.86,291.98 L153.43,292.02 L154.00,292.06 L154.57,292.10 L155.14,292.14 L155.71,292.17 L156.29,292.21 L156.86,292.24 L157.43,292.28 L158.00,292.31 L158.57,292.34 L159.14,292.38 L159.72,292.41 L160.29,292.44 L160.86,292.48 L161.43,292.51 L162.00,292.55 L162.57,292.58 L163.15,292.61 L163.72,292.65 L164.29,292.68 L164.86,292.71 L165.43,292.74 L166.00,292.78 L166.58,292.81 L167.15,292.84 L167.72,292.87 L168.29,292.90 L168.86,292.93 L169.43,292.97 L170.01,293.00 L170.58,293.03 L171.15,293.06 L171.72,293.09 L172.29,293.12 L172.86,293.15 L173.44,293.18 L174.01,293.20 L174.58,293.23 L175.15,293.26 L175.72,293.29 L176.29,293.32 L176.87,293.34 L177.44,293.37 L178.01,293.40 L178.58,293.42 L179.15,293.45 L179.72,293.48 L180.30,293.50 L180.87,293.53 L181.44,293.55 L182.01,293.57 L182.58,293.60 L183.44,293.62" fill="none" stroke="#3094D8" stroke-width="2.0" stroke-linejoin="round" stroke-linecap="round"/>
<path d="M69.39,241.90 L69.96,241.95 L70.54,242.01 L71.11,242.08 L71.68,242.16 L72.25,242.24 L72.82,242.33 L73.39,242.42 L73.97,242.51 L74.54,242.61 L75.11,242.70 L75.68,242.80 L76.25,242.91 L76.82,243.01 L77.40,243.12 L77.97,243.23 L78.54,243.35 L79.11,243.48 L79.68,243.60 L80.25,243.74 L80.83,243.87 L81.40,244.01 L81.97,244.15 L82.54,244.30 L83.11,244.45 L83.68,244.61 L84.26,244.78 L84.83,244.96 L85.40,245.15 L85.97,245.34 L86.54,245.50 L87.11,245.64 L87.69,245.74 L88.26,245.82 L88.83,245.88 L89.40,245.92 L89.97,245.96 L90.54,246.00 L91.12,246.03 L91.69,246.06 L92.26,246.08 L92.83,246.11 L93.40,246.13 L93.97,246.15 L94.55,246.17 L95.12,246.19 L95.69,246.21 L96.26,246.24 L96.83,246.26 L97.40,246.29 L97.98,246.32 L98.55,246.35 L99.12,246.39 L99.69,246.42 L100.26,246.46 L100.83,246.49 L101.41,246.53 L101.98,246.56 L102.55,246.60 L103.12,246.63 L103.69,246.68 L104.26,246.72 L104.84,246.78 L105.41,246.84 L105.98,246.91 L106.55,246.99 L107.12,247.10 L107.69,247.24 L108.27,247.50 L108.84,247.96 L109.41,248.68 L109.98,249.63 L110.55,250.74 L111.12,251.94 L111.70,253.20 L112.27,254.51 L112.84,255.86 L113.41,257.16 L113.98,258.35 L114.55,259.37 L115.13,260.26 L115.70,261.06 L116.27,261.81 L116.84,262.56 L117.41,263.31 L117.98,264.07 L118.56,264.84 L119.13,265.58 L119.70,266.27 L120.27,266.89 L120.84,267.43 L121.41,267.88 L121.99,268.27 L122.56,268.61 L123.13,268.93 L123.70,269.21 L124.27,269.45 L124.84,269.66 L125.42,269.82 L125.99,269.94 L126.56,270.03 L127.13,270.10 L127.70,270.16 L128.27,270.20 L128.85,270.24 L129.42,270.27 L129.99,270.30 L130.56,270.33 L131.13,270.36 L131.70,270.39 L132.28,270.43 L132.85,270.47 L133.42,270.52 L133.99,270.58 L134.56,270.66 L135.13,270.76 L135.71,270.89 L136.28,271.06 L136.85,271.26 L137.42,271.52 L137.99,271.86 L138.56,272.35 L139.14,273.06 L139.71,274.01 L140.28,275.18 L140.85,276.53 L141.42,278.07 L141.99,279.75 L142.57,281.39 L143.14,282.77 L143.71,283.75 L144.28,284.36 L144.85,284.76 L145.42,285.06 L146.00,285.31 L146.57,285.52 L147.14,285.71 L147.71,285.88 L148.28,286.02 L148.85,286.14 L149.43,286.25 L150.00,286.35 L150.57,286.44 L151.14,286.52 L151.71,286.60 L152.28,286.67 L152.86,286.74 L153.43,286.80 L154.00,286.86 L154.57,286.91 L155.14,286.96 L155.71,287.01 L156.29,287.05 L156.86,287.09 L157.43,287.13 L158.00,287.17 L158.57,287.21 L159.14,287.24 L159.72,287.28 L160.29,287.32 L160.86,287.35 L161.43,287.39 L162.00,287.42 L162.57,287.46 L163.15,287.50 L163.72,287.53 L164.29,287.57 L164.86,287.60 L165.43,287.63 L166.00,287.67 L166.58,287.70 L167.15,287.73 L167.72,287.77 L168.29,287.80 L168.86,287.83 L169.43,287.86 L170.01,287.89 L170.58,287.92 L171.15,287.95 L171.72,287.98 L172.29,288.01 L172.86,288.03 L173.44,288.06 L174.01,288.09 L174.58,288.11 L175.15,288.14 L175.72,288.16 L176.29,288.18 L176.87,288.20 L177.44,288.22 L178.01,288.24 L178.58,288.26 L179.15,288.28 L179.72,288.30 L180.30,288.31 L180.87,288.33 L181.44,288.34 L182.01,288.36 L182.58,288.37 L183.44,288.38" fill="none" stroke="#F7700F" stroke-width="2.0" stroke-linejoin="round" stroke-linecap="round"/>
<path d="M69.39,241.90 L69.96,241.93 L70.54,241.99 L71.11,242.05 L71.68,242.13 L72.25,242.21 L72.82,242.29 L73.39,242.38 L73.97,242.48 L74.54,242.58 L75.11,242.68 L75.68,242.79 L76.25,242.90 L76.82,243.01 L77.40,243.13 L77.97,243.26 L78.54,243.40 L79.11,243.56 L79.68,243.72 L80.25,243.89 L80.83,244.06 L81.40,244.23 L81.97,244.40 L82.54,244.57 L83.11,244.73 L83.68,244.90 L84.26,245.06 L84.83,245.22 L85.40,245.39 L85.97,245.54 L86.54,245.68 L87.11,245.79 L87.69,245.87 L88.26,245.93 L88.83,245.98 L89.40,246.01 L89.97,246.05 L90.54,246.07 L91.12,246.10 L91.69,246.12 L92.26,246.14 L92.83,246.15 L93.40,246.17 L93.97,246.18 L94.55,246.20 L95.12,246.22 L95.69,246.23 L96.26,246.25 L96.83,246.27 L97.40,246.30 L97.98,246.32 L98.55,246.36 L99.12,246.39 L99.69,246.43 L100.26,246.47 L100.83,246.51 L101.41,246.56 L101.98,246.62 L102.55,246.69 L103.12,246.78 L103.69,246.89 L104.26,247.04 L104.84,247.28 L105.41,247.64 L105.98,248.12 L106.55,248.71 L107.12,249.40 L107.69,250.16 L108.27,251.00 L108.84,251.94 L109.41,253.02 L109.98,254.26 L110.55,255.66 L111.12,257.26 L111.70,259.12 L112.27,261.27 L112.84,263.63 L113.41,266.02 L113.98,268.28 L114.55,270.37 L115.13,272.29 L115.70,274.04 L116.27,275.60 L116.84,276.91 L117.41,277.97 L117.98,278.82 L118.56,279.52 L119.13,280.13 L119.70,280.64 L120.27,281.07 L120.84,281.43 L121.41,281.71 L121.99,281.94 L122.56,282.14 L123.13,282.30 L123.70,282.45 L124.27,282.58 L124.84,282.72 L125.42,282.86 L125.99,283.01 L126.56,283.17 L127.13,283.34 L127.70,283.51 L128.27,283.68 L128.85,283.86 L129.42,284.03 L129.99,284.21 L130.56,284.38 L131.13,284.56 L131.70,284.73 L132.28,284.89 L132.85,285.05 L133.42,285.20 L133.99,285.35 L134.56,285.49 L135.13,285.65 L135.71,285.81 L136.28,285.98 L136.85,286.18 L137.42,286.39 L137.99,286.64 L138.56,286.95 L139.14,287.34 L139.71,287.80 L140.28,288.30 L140.85,288.80 L141.42,289.26 L141.99,289.66 L142.57,290.01 L143.14,290.32 L143.71,290.58 L144.28,290.80 L144.85,290.97 L145.42,291.10 L146.00,291.20 L146.57,291.28 L147.14,291.36 L147.71,291.42 L148.28,291.48 L148.85,291.53 L149.43,291.57 L150.00,291.62 L150.57,291.67 L151.14,291.71 L151.71,291.75 L152.28,291.79 L152.86,291.83 L153.43,291.87 L154.00,291.91 L154.57,291.94 L155.14,291.98 L155.71,292.01 L156.29,292.04 L156.86,292.08 L157.43,292.11 L158.00,292.14 L158.57,292.17 L159.14,292.20 L159.72,292.23 L160.29,292.26 L160.86,292.29 L161.43,292.32 L162.00,292.36 L162.57,292.39 L163.15,292.42 L163.72,292.45 L164.29,292.48 L164.86,292.51 L165.43,292.54 L166.00,292.57 L166.58,292.60 L167.15,292.63 L167.72,292.66 L168.29,292.69 L168.86,292.72 L169.43,292.75 L170.01,292.78 L170.58,292.80 L171.15,292.83 L171.72,292.86 L172.29,292.89 L172.86,292.92 L173.44,292.95 L174.01,292.97 L174.58,293.00 L175.15,293.03 L175.72,293.05 L176.29,293.08 L176.87,293.11 L177.44,293.13 L178.01,293.16 L178.58,293.18 L179.15,293.21 L179.72,293.24 L180.30,293.26 L180.87,293.28 L181.44,293.31 L182.01,293.33 L182.58,293.35 L183.44,293.38" fill="none" stroke="#A3A3A3" stroke-width="2.0" stroke-linejoin="round" stroke-linecap="round"/>
<path d="M69.39,241.90 L69.96,241.94 L70.54,241.99 L71.11,242.05 L71.68,242.12 L72.25,242.19 L72.82,242.27 L73.39,242.35 L73.97,242.44 L74.54,242.52 L75.11,242.61 L75.68,242.70 L76.25,242.80 L76.82,242.90 L77.40,243.00 L77.97,243.10 L78.54,243.21 L79.11,243.33 L79.68,243.45 L80.25,243.58 L80.83,243.71 L81.40,243.84 L81.97,243.98 L82.54,244.12 L83.11,244.27 L83.68,244.43 L84.26,244.60 L84.83,244.78 L85.40,244.97 L85.97,245.16 L86.54,245.33 L87.11,245.46 L87.69,245.56 L88.26,245.63 L88.83,245.68 L89.40,245.72 L89.97,245.75 L90.54,245.77 L91.12,245.80 L91.69,245.82 L92.26,245.84 L92.83,245.86 L93.40,245.87 L93.97,245.89 L94.55,245.90 L95.12,245.92 L95.69,245.93 L96.26,245.95 L96.83,245.97 L97.40,246.00 L97.98,246.02 L98.55,246.05 L99.12,246.09 L99.69,246.12 L100.26,246.16 L100.83,246.20 L101.41,246.24 L101.98,246.28 L102.55,246.33 L103.12,246.38 L103.69,246.45 L104.26,246.52 L104.84,246.60 L105.41,246.69 L105.98,246.79 L106.55,246.91 L107.12,247.06 L107.69,247.27 L108.27,247.63 L108.84,248.23 L109.41,249.10 L109.98,250.21 L110.55,251.49 L111.12,252.88 L111.70,254.41 L112.27,256.06 L112.84,257.78 L113.41,259.48 L113.98,261.13 L114.55,262.71 L115.13,264.22 L115.70,265.61 L116.27,266.83 L116.84,267.86 L117.41,268.72 L117.98,269.45 L118.56,270.09 L119.13,270.67 L119.70,271.20 L120.27,271.72 L120.84,272.22 L121.41,272.71 L121.99,273.18 L122.56,273.64 L123.13,274.07 L123.70,274.46 L124.27,274.82 L124.84,275.13 L125.42,275.39 L125.99,275.60 L126.56,275.77 L127.13,275.91 L127.70,276.03 L128.27,276.13 L128.85,276.21 L129.42,276.29 L129.99,276.35 L130.56,276.42 L131.13,276.47 L131.70,276.53 L132.28,276.60 L132.85,276.67 L133.42,276.75 L133.99,276.84 L134.56,276.95 L135.13,277.08 L135.71,277.24 L136.28,277.46 L136.85,277.77 L137.42,278.22 L137.99,278.85 L138.56,279.69 L139.14,280.78 L139.71,282.06 L140.28,283.42 L140.85,284.71 L141.42,285.87 L141.99,286.88 L142.57,287.73 L143.14,288.36 L143.71,288.75 L144.28,288.97 L144.85,289.09 L145.42,289.16 L146.00,289.22 L146.57,289.27 L147.14,289.31 L147.71,289.34 L148.28,289.37 L148.85,289.40 L149.43,289.43 L150.00,289.46 L150.57,289.50 L151.14,289.54 L151.71,289.58 L152.28,289.63 L152.86,289.67 L153.43,289.71 L154.00,289.76 L154.57,289.80 L155.14,289.84 L155.71,289.89 L156.29,289.93 L156.86,289.97 L157.43,290.01 L158.00,290.05 L158.57,290.10 L159.14,290.14 L159.72,290.17 L160.29,290.21 L160.86,290.25 L161.43,290.29 L162.00,290.33 L162.57,290.37 L163.15,290.41 L163.72,290.45 L164.29,290.48 L164.86,290.52 L165.43,290.56 L166.00,290.60 L166.58,290.64 L167.15,290.67 L167.72,290.71 L168.29,290.75 L168.86,290.78 L169.43,290.82 L170.01,290.86 L170.58,290.89 L171.15,290.93 L171.72,290.96 L172.29,291.00 L172.86,291.03 L173.44,291.07 L174.01,291.10 L174.58,291.14 L175.15,291.17 L175.72,291.21 L176.29,291.24 L176.87,291.28 L177.44,291.31 L178.01,291.34 L178.58,291.37 L179.15,291.41 L179.72,291.44 L180.30,291.47 L180.87,291.50 L181.44,291.53 L182.01,291.56 L182.58,291.59 L183.44,291.63" fill="none" stroke="#FFBA08" stroke-width="2.0" stroke-linejoin="round" stroke-linecap="round"/>
<path d="M66.8,229.8 L66.8,302.2 L196.4,302.2" fill="none" stroke="#000" stroke-width="1.6"/>
<path d="M63.8,302.20 L66.8,302.20 M63.8,290.13 L66.8,290.13 M63.8,278.07 L66.8,278.07 M63.8,266.00 L66.8,266.00 M63.8,253.93 L66.8,253.93 M63.8,241.87 L66.8,241.87 M63.8,229.80 L66.8,229.80 M66.80,302.2 L66.80,305.2 M92.72,302.2 L92.72,305.2 M118.64,302.2 L118.64,305.2 M144.56,302.2 L144.56,305.2 M170.48,302.2 L170.48,305.2 M196.40,302.2 L196.40,305.2" stroke="#000" stroke-width="1.6"/>
<text x="58" y="305.24" text-anchor="end" font-size="9.2" fill="#666666" stroke="#666666" stroke-width="0.25">0</text>
<text x="58" y="293.17" text-anchor="end" font-size="9.2" fill="#666666" stroke="#666666" stroke-width="0.25">20</text>
<text x="58" y="281.10" text-anchor="end" font-size="9.2" fill="#666666" stroke="#666666" stroke-width="0.25">40</text>
<text x="58" y="269.04" text-anchor="end" font-size="9.2" fill="#666666" stroke="#666666" stroke-width="0.25">60</text>
<text x="58" y="256.97" text-anchor="end" font-size="9.2" fill="#666666" stroke="#666666" stroke-width="0.25">80</text>
<text x="58" y="244.90" text-anchor="end" font-size="9.2" fill="#666666" stroke="#666666" stroke-width="0.25">100</text>
<text x="58" y="232.84" text-anchor="end" font-size="9.2" fill="#666666" stroke="#666666" stroke-width="0.25">120</text>
<text x="66.80" y="317.6" text-anchor="middle" font-size="9.2" fill="#666666" stroke="#666666" stroke-width="0.25">0</text>
<text x="92.72" y="317.6" text-anchor="middle" font-size="9.2" fill="#666666" stroke="#666666" stroke-width="0.25">200</text>
<text x="118.64" y="317.6" text-anchor="middle" font-size="9.2" fill="#666666" stroke="#666666" stroke-width="0.25">400</text>
<text x="144.56" y="317.6" text-anchor="middle" font-size="9.2" fill="#666666" stroke="#666666" stroke-width="0.25">600</text>
<text x="170.48" y="317.6" text-anchor="middle" font-size="9.2" fill="#666666" stroke="#666666" stroke-width="0.25">800</text>
<text x="196.40" y="317.6" text-anchor="middle" font-size="9.2" fill="#666666" stroke="#666666" stroke-width="0.25">1000</text>
<text transform="translate(35.27,269.1) rotate(-90)" x="0" y="0" text-anchor="middle" font-size="10.5" fill="#666666" stroke="#666666" stroke-width="0.25" textLength="67.2" lengthAdjust="spacingAndGlyphs">Weight loss (%)</text>
<text x="93.7" y="332.5" font-size="10.5" fill="#666666" stroke="#666666" stroke-width="0.25" textLength="75.20" lengthAdjust="spacingAndGlyphs">Temperature (°C)</text>
<text x="96.65" y="217.8" font-size="9" fill="#222" stroke="#222" stroke-width="0.2" textLength="9.7" lengthAdjust="spacingAndGlyphs">(c)</text>
<line x1="28.9" y1="342.8" x2="47.599999999999994" y2="342.8" stroke="#3094D8" stroke-width="1.8"/>
<text x="48.8" y="346.03" font-size="9.5" fill="#666666" stroke="#666666" stroke-width="0.2" textLength="20.7" lengthAdjust="spacingAndGlyphs">S3G0</text>
<line x1="75" y1="342.8" x2="93.7" y2="342.8" stroke="#F7700F" stroke-width="1.8"/>
<text x="94.9" y="346.03" font-size="9.5" fill="#666666" stroke="#666666" stroke-width="0.2" textLength="20.7" lengthAdjust="spacingAndGlyphs">S3G1</text>
<line x1="121.4" y1="342.8" x2="140.1" y2="342.8" stroke="#A3A3A3" stroke-width="1.8"/>
<text x="141.29999999999998" y="346.03" font-size="9.5" fill="#666666" stroke="#666666" stroke-width="0.2" textLength="20.7" lengthAdjust="spacingAndGlyphs">S3G2</text>
<line x1="168.1" y1="342.8" x2="186.79999999999998" y2="342.8" stroke="#FFBA08" stroke-width="1.8"/>
<text x="187.99999999999997" y="346.03" font-size="9.5" fill="#666666" stroke="#666666" stroke-width="0.2" textLength="20.7" lengthAdjust="spacingAndGlyphs">S3G3</text>
<defs><linearGradient id="bgd" gradientUnits="userSpaceOnUse" x1="250.2" y1="0" x2="376.2" y2="0"><stop offset="0%" stop-color="#DDF0D8"/><stop offset="30.40%" stop-color="#DDF0D8"/><stop offset="35.16%" stop-color="#FDE3D6"/><stop offset="53.41%" stop-color="#FDE3D6"/><stop offset="63.73%" stop-color="#FFF0CB"/><stop offset="100%" stop-color="#FFF0CB"/></linearGradient></defs>
<rect x="250.2" y="226.5" width="126.00" height="69.20" fill="url(#bgd)"/>
<path d="M252.72,238.46 L253.27,238.48 L253.83,238.51 L254.38,238.55 L254.94,238.59 L255.49,238.64 L256.04,238.70 L256.60,238.76 L257.15,238.83 L257.71,238.90 L258.26,238.98 L258.81,239.06 L259.37,239.14 L259.92,239.23 L260.47,239.32 L261.03,239.41 L261.58,239.50 L262.14,239.60 L262.69,239.70 L263.24,239.81 L263.80,239.92 L264.35,240.05 L264.91,240.20 L265.46,240.36 L266.01,240.54 L266.57,240.74 L267.12,240.94 L267.68,241.13 L268.23,241.33 L268.78,241.51 L269.34,241.68 L269.89,241.82 L270.44,241.95 L271.00,242.04 L271.55,242.12 L272.11,242.17 L272.66,242.22 L273.21,242.26 L273.77,242.29 L274.32,242.32 L274.88,242.34 L275.43,242.37 L275.98,242.39 L276.54,242.41 L277.09,242.42 L277.65,242.44 L278.20,242.45 L278.75,242.47 L279.31,242.48 L279.86,242.49 L280.41,242.51 L280.97,242.53 L281.52,242.55 L282.08,242.57 L282.63,242.59 L283.18,242.62 L283.74,242.65 L284.29,242.69 L284.85,242.73 L285.40,242.77 L285.95,242.83 L286.51,242.90 L287.06,243.01 L287.62,243.19 L288.17,243.45 L288.72,243.79 L289.28,244.21 L289.83,244.72 L290.38,245.35 L290.94,246.16 L291.49,247.20 L292.05,248.47 L292.60,249.88 L293.15,251.36 L293.71,252.86 L294.26,254.37 L294.82,255.88 L295.37,257.38 L295.92,258.87 L296.48,260.34 L297.03,261.74 L297.59,263.03 L298.14,264.20 L298.69,265.22 L299.25,266.09 L299.80,266.81 L300.35,267.40 L300.91,267.88 L301.46,268.30 L302.02,268.68 L302.57,269.01 L303.12,269.31 L303.68,269.57 L304.23,269.80 L304.79,270.00 L305.34,270.17 L305.89,270.33 L306.45,270.47 L307.00,270.59 L307.56,270.70 L308.11,270.80 L308.66,270.89 L309.22,270.97 L309.77,271.05 L310.33,271.13 L310.88,271.20 L311.43,271.27 L311.99,271.35 L312.54,271.42 L313.09,271.50 L313.65,271.59 L314.20,271.69 L314.76,271.80 L315.31,271.92 L315.86,272.05 L316.42,272.20 L316.97,272.37 L317.53,272.57 L318.08,272.82 L318.63,273.12 L319.19,273.48 L319.74,273.91 L320.30,274.39 L320.85,274.96 L321.40,275.67 L321.96,276.55 L322.51,277.59 L323.06,278.67 L323.62,279.62 L324.17,280.32 L324.73,280.77 L325.28,281.06 L325.83,281.27 L326.39,281.44 L326.94,281.59 L327.50,281.72 L328.05,281.83 L328.60,281.94 L329.16,282.03 L329.71,282.11 L330.27,282.19 L330.82,282.26 L331.37,282.33 L331.93,282.40 L332.48,282.46 L333.03,282.52 L333.59,282.58 L334.14,282.64 L334.70,282.69 L335.25,282.74 L335.80,282.78 L336.36,282.83 L336.91,282.87 L337.47,282.91 L338.02,282.95 L338.57,282.99 L339.13,283.04 L339.68,283.08 L340.24,283.12 L340.79,283.16 L341.34,283.21 L341.90,283.25 L342.45,283.29 L343.00,283.33 L343.56,283.38 L344.11,283.42 L344.67,283.46 L345.22,283.50 L345.77,283.55 L346.33,283.59 L346.88,283.63 L347.44,283.67 L347.99,283.71 L348.54,283.75 L349.10,283.79 L349.65,283.83 L350.21,283.87 L350.76,283.91 L351.31,283.95 L351.87,283.99 L352.42,284.03 L352.97,284.06 L353.53,284.10 L354.08,284.14 L354.64,284.18 L355.19,284.21 L355.74,284.25 L356.30,284.29 L356.85,284.32 L357.41,284.36 L357.96,284.39 L358.51,284.43 L359.07,284.46 L359.62,284.50 L360.18,284.53 L360.73,284.56 L361.28,284.60 L361.84,284.63 L362.39,284.66 L363.22,284.69" fill="none" stroke="#3094D8" stroke-width="2.0" stroke-linejoin="round" stroke-linecap="round"/>
<path d="M252.72,238.45 L253.27,238.46 L253.83,238.48 L254.38,238.50 L254.94,238.53 L255.49,238.57 L256.04,238.62 L256.60,238.68 L257.15,238.74 L257.71,238.81 L258.26,238.89 L258.81,238.97 L259.37,239.06 L259.92,239.15 L260.47,239.25 L261.03,239.35 L261.58,239.45 L262.14,239.56 L262.69,239.68 L263.24,239.80 L263.80,239.94 L264.35,240.12 L264.91,240.34 L265.46,240.60 L266.01,240.90 L266.57,241.22 L267.12,241.56 L267.68,241.90 L268.23,242.24 L268.78,242.56 L269.34,242.86 L269.89,243.11 L270.44,243.32 L271.00,243.48 L271.55,243.60 L272.11,243.69 L272.66,243.75 L273.21,243.81 L273.77,243.86 L274.32,243.90 L274.88,243.94 L275.43,243.98 L275.98,244.01 L276.54,244.04 L277.09,244.06 L277.65,244.08 L278.20,244.11 L278.75,244.13 L279.31,244.15 L279.86,244.17 L280.41,244.19 L280.97,244.21 L281.52,244.24 L282.08,244.27 L282.63,244.31 L283.18,244.34 L283.74,244.39 L284.29,244.44 L284.85,244.49 L285.40,244.55 L285.95,244.63 L286.51,244.72 L287.06,244.85 L287.62,245.03 L288.17,245.29 L288.72,245.63 L289.28,246.05 L289.83,246.55 L290.38,247.11 L290.94,247.77 L291.49,248.54 L292.05,249.54 L292.60,250.82 L293.15,252.41 L293.71,254.21 L294.26,256.13 L294.82,258.09 L295.37,260.05 L295.92,262.04 L296.48,264.03 L297.03,265.95 L297.59,267.74 L298.14,269.35 L298.69,270.77 L299.25,271.98 L299.80,272.97 L300.35,273.78 L300.91,274.44 L301.46,275.01 L302.02,275.53 L302.57,275.99 L303.12,276.41 L303.68,276.78 L304.23,277.11 L304.79,277.39 L305.34,277.64 L305.89,277.86 L306.45,278.05 L307.00,278.21 L307.56,278.36 L308.11,278.49 L308.66,278.61 L309.22,278.71 L309.77,278.81 L310.33,278.90 L310.88,278.98 L311.43,279.05 L311.99,279.13 L312.54,279.20 L313.09,279.27 L313.65,279.35 L314.20,279.43 L314.76,279.51 L315.31,279.61 L315.86,279.71 L316.42,279.83 L316.97,279.96 L317.53,280.10 L318.08,280.27 L318.63,280.46 L319.19,280.70 L319.74,281.02 L320.30,281.44 L320.85,281.95 L321.40,282.49 L321.96,283.04 L322.51,283.58 L323.06,284.09 L323.62,284.53 L324.17,284.84 L324.73,285.03 L325.28,285.12 L325.83,285.16 L326.39,285.18 L326.94,285.19 L327.50,285.20 L328.05,285.21 L328.60,285.22 L329.16,285.22 L329.71,285.23 L330.27,285.24 L330.82,285.25 L331.37,285.26 L331.93,285.28 L332.48,285.30 L333.03,285.32 L333.59,285.35 L334.14,285.38 L334.70,285.41 L335.25,285.45 L335.80,285.48 L336.36,285.52 L336.91,285.56 L337.47,285.59 L338.02,285.63 L338.57,285.66 L339.13,285.69 L339.68,285.72 L340.24,285.75 L340.79,285.77 L341.34,285.79 L341.90,285.81 L342.45,285.84 L343.00,285.86 L343.56,285.88 L344.11,285.90 L344.67,285.93 L345.22,285.95 L345.77,285.97 L346.33,285.99 L346.88,286.01 L347.44,286.03 L347.99,286.05 L348.54,286.07 L349.10,286.09 L349.65,286.11 L350.21,286.13 L350.76,286.15 L351.31,286.17 L351.87,286.18 L352.42,286.20 L352.97,286.22 L353.53,286.23 L354.08,286.25 L354.64,286.27 L355.19,286.28 L355.74,286.29 L356.30,286.31 L356.85,286.32 L357.41,286.33 L357.96,286.35 L358.51,286.36 L359.07,286.37 L359.62,286.38 L360.18,286.39 L360.73,286.40 L361.28,286.40 L361.84,286.41 L362.39,286.42 L363.22,286.42" fill="none" stroke="#F7700F" stroke-width="2.0" stroke-linejoin="round" stroke-linecap="round"/>
<path d="M252.72,238.45 L253.27,238.46 L253.83,238.48 L254.38,238.50 L254.94,238.54 L255.49,238.58 L256.04,238.63 L256.60,238.69 L257.15,238.75 L257.71,238.82 L258.26,238.90 L258.81,238.98 L259.37,239.07 L259.92,239.16 L260.47,239.26 L261.03,239.36 L261.58,239.47 L262.14,239.57 L262.69,239.68 L263.24,239.80 L263.80,239.94 L264.35,240.10 L264.91,240.29 L265.46,240.53 L266.01,240.79 L266.57,241.07 L267.12,241.36 L267.68,241.65 L268.23,241.94 L268.78,242.21 L269.34,242.45 L269.89,242.66 L270.44,242.82 L271.00,242.94 L271.55,243.02 L272.11,243.07 L272.66,243.11 L273.21,243.14 L273.77,243.17 L274.32,243.19 L274.88,243.21 L275.43,243.22 L275.98,243.24 L276.54,243.25 L277.09,243.26 L277.65,243.27 L278.20,243.28 L278.75,243.29 L279.31,243.30 L279.86,243.31 L280.41,243.32 L280.97,243.33 L281.52,243.34 L282.08,243.36 L282.63,243.38 L283.18,243.39 L283.74,243.42 L284.29,243.44 L284.85,243.47 L285.40,243.50 L285.95,243.54 L286.51,243.60 L287.06,243.70 L287.62,243.86 L288.17,244.11 L288.72,244.45 L289.28,244.88 L289.83,245.38 L290.38,245.96 L290.94,246.61 L291.49,247.39 L292.05,248.36 L292.60,249.60 L293.15,251.11 L293.71,252.81 L294.26,254.59 L294.82,256.34 L295.37,258.05 L295.92,259.71 L296.48,261.36 L297.03,262.97 L297.59,264.54 L298.14,266.07 L298.69,267.53 L299.25,268.85 L299.80,269.96 L300.35,270.82 L300.91,271.49 L301.46,272.05 L302.02,272.52 L302.57,272.92 L303.12,273.28 L303.68,273.58 L304.23,273.85 L304.79,274.08 L305.34,274.29 L305.89,274.47 L306.45,274.63 L307.00,274.78 L307.56,274.92 L308.11,275.05 L308.66,275.18 L309.22,275.32 L309.77,275.46 L310.33,275.59 L310.88,275.72 L311.43,275.83 L311.99,275.95 L312.54,276.05 L313.09,276.16 L313.65,276.26 L314.20,276.37 L314.76,276.48 L315.31,276.60 L315.86,276.72 L316.42,276.86 L316.97,277.01 L317.53,277.17 L318.08,277.36 L318.63,277.57 L319.19,277.82 L319.74,278.15 L320.30,278.56 L320.85,279.06 L321.40,279.62 L321.96,280.24 L322.51,280.90 L323.06,281.59 L323.62,282.22 L324.17,282.70 L324.73,283.01 L325.28,283.18 L325.83,283.27 L326.39,283.33 L326.94,283.39 L327.50,283.43 L328.05,283.47 L328.60,283.50 L329.16,283.53 L329.71,283.55 L330.27,283.58 L330.82,283.61 L331.37,283.64 L331.93,283.67 L332.48,283.70 L333.03,283.74 L333.59,283.77 L334.14,283.80 L334.70,283.84 L335.25,283.87 L335.80,283.90 L336.36,283.93 L336.91,283.96 L337.47,283.99 L338.02,284.02 L338.57,284.05 L339.13,284.08 L339.68,284.12 L340.24,284.15 L340.79,284.18 L341.34,284.21 L341.90,284.25 L342.45,284.28 L343.00,284.31 L343.56,284.35 L344.11,284.38 L344.67,284.41 L345.22,284.45 L345.77,284.48 L346.33,284.51 L346.88,284.55 L347.44,284.58 L347.99,284.61 L348.54,284.65 L349.10,284.68 L349.65,284.71 L350.21,284.75 L350.76,284.78 L351.31,284.82 L351.87,284.85 L352.42,284.88 L352.97,284.92 L353.53,284.95 L354.08,284.99 L354.64,285.02 L355.19,285.06 L355.74,285.09 L356.30,285.13 L356.85,285.16 L357.41,285.20 L357.96,285.23 L358.51,285.27 L359.07,285.30 L359.62,285.34 L360.18,285.37 L360.73,285.41 L361.28,285.44 L361.84,285.48 L362.39,285.51 L363.22,285.55" fill="none" stroke="#A3A3A3" stroke-width="2.0" stroke-linejoin="round" stroke-linecap="round"/>
<path d="M252.72,238.45 L253.27,238.46 L253.83,238.48 L254.38,238.50 L254.94,238.53 L255.49,238.57 L256.04,238.62 L256.60,238.67 L257.15,238.73 L257.71,238.80 L258.26,238.88 L258.81,238.96 L259.37,239.04 L259.92,239.14 L260.47,239.23 L261.03,239.34 L261.58,239.44 L262.14,239.55 L262.69,239.67 L263.24,239.80 L263.80,239.96 L264.35,240.16 L264.91,240.42 L265.46,240.74 L266.01,241.10 L266.57,241.50 L267.12,241.93 L267.68,242.35 L268.23,242.77 L268.78,243.17 L269.34,243.53 L269.89,243.84 L270.44,244.09 L271.00,244.27 L271.55,244.39 L272.11,244.47 L272.66,244.53 L273.21,244.58 L273.77,244.62 L274.32,244.66 L274.88,244.69 L275.43,244.72 L275.98,244.74 L276.54,244.76 L277.09,244.78 L277.65,244.80 L278.20,244.81 L278.75,244.83 L279.31,244.84 L279.86,244.86 L280.41,244.87 L280.97,244.89 L281.52,244.91 L282.08,244.94 L282.63,244.96 L283.18,244.99 L283.74,245.03 L284.29,245.07 L284.85,245.11 L285.40,245.16 L285.95,245.22 L286.51,245.31 L287.06,245.43 L287.62,245.63 L288.17,245.92 L288.72,246.31 L289.28,246.80 L289.83,247.37 L290.38,248.03 L290.94,248.77 L291.49,249.64 L292.05,250.73 L292.60,252.11 L293.15,253.79 L293.71,255.71 L294.26,257.73 L294.82,259.80 L295.37,261.88 L295.92,264.00 L296.48,266.11 L297.03,268.13 L297.59,269.96 L298.14,271.56 L298.69,272.91 L299.25,274.06 L299.80,275.07 L300.35,275.98 L300.91,276.81 L301.46,277.59 L302.02,278.32 L302.57,279.00 L303.12,279.61 L303.68,280.16 L304.23,280.65 L304.79,281.08 L305.34,281.47 L305.89,281.81 L306.45,282.12 L307.00,282.38 L307.56,282.59 L308.11,282.77 L308.66,282.91 L309.22,283.03 L309.77,283.13 L310.33,283.23 L310.88,283.31 L311.43,283.38 L311.99,283.44 L312.54,283.50 L313.09,283.56 L313.65,283.62 L314.20,283.67 L314.76,283.73 L315.31,283.80 L315.86,283.87 L316.42,283.95 L316.97,284.04 L317.53,284.15 L318.08,284.27 L318.63,284.41 L319.19,284.60 L319.74,284.85 L320.30,285.19 L320.85,285.60 L321.40,286.04 L321.96,286.48 L322.51,286.91 L323.06,287.31 L323.62,287.65 L324.17,287.89 L324.73,288.06 L325.28,288.16 L325.83,288.24 L326.39,288.30 L326.94,288.35 L327.50,288.40 L328.05,288.44 L328.60,288.47 L329.16,288.51 L329.71,288.54 L330.27,288.56 L330.82,288.59 L331.37,288.62 L331.93,288.65 L332.48,288.68 L333.03,288.71 L333.59,288.74 L334.14,288.77 L334.70,288.79 L335.25,288.82 L335.80,288.85 L336.36,288.87 L336.91,288.89 L337.47,288.92 L338.02,288.94 L338.57,288.96 L339.13,288.97 L339.68,288.99 L340.24,289.01 L340.79,289.02 L341.34,289.04 L341.90,289.05 L342.45,289.07 L343.00,289.08 L343.56,289.09 L344.11,289.11 L344.67,289.12 L345.22,289.14 L345.77,289.15 L346.33,289.16 L346.88,289.18 L347.44,289.19 L347.99,289.20 L348.54,289.21 L349.10,289.23 L349.65,289.24 L350.21,289.25 L350.76,289.26 L351.31,289.27 L351.87,289.28 L352.42,289.29 L352.97,289.30 L353.53,289.31 L354.08,289.32 L354.64,289.33 L355.19,289.34 L355.74,289.35 L356.30,289.35 L356.85,289.36 L357.41,289.37 L357.96,289.37 L358.51,289.38 L359.07,289.38 L359.62,289.39 L360.18,289.39 L360.73,289.40 L361.28,289.40 L361.84,289.40 L362.39,289.40 L363.22,289.40" fill="none" stroke="#FFBA08" stroke-width="2.0" stroke-linejoin="round" stroke-linecap="round"/>
<path d="M250.2,227.0 L250.2,295.7 L376.2,295.7" fill="none" stroke="#000" stroke-width="1.6"/>
<path d="M247.2,295.70 L250.2,295.70 M247.2,284.25 L250.2,284.25 M247.2,272.80 L250.2,272.80 M247.2,261.35 L250.2,261.35 M247.2,249.90 L250.2,249.90 M247.2,238.45 L250.2,238.45 M247.2,227.00 L250.2,227.00 M250.20,295.7 L250.20,298.7 M275.40,295.7 L275.40,298.7 M300.60,295.7 L300.60,298.7 M325.80,295.7 L325.80,298.7 M351.00,295.7 L351.00,298.7 M376.20,295.7 L376.20,298.7" stroke="#000" stroke-width="1.6"/>
<text x="241.7" y="298.74" text-anchor="end" font-size="9.2" fill="#666666" stroke="#666666" stroke-width="0.25">0</text>
<text x="241.7" y="287.29" text-anchor="end" font-size="9.2" fill="#666666" stroke="#666666" stroke-width="0.25">20</text>
<text x="241.7" y="275.84" text-anchor="end" font-size="9.2" fill="#666666" stroke="#666666" stroke-width="0.25">40</text>
<text x="241.7" y="264.39" text-anchor="end" font-size="9.2" fill="#666666" stroke="#666666" stroke-width="0.25">60</text>
<text x="241.7" y="252.94" text-anchor="end" font-size="9.2" fill="#666666" stroke="#666666" stroke-width="0.25">80</text>
<text x="241.7" y="241.49" text-anchor="end" font-size="9.2" fill="#666666" stroke="#666666" stroke-width="0.25">100</text>
<text x="241.7" y="230.04" text-anchor="end" font-size="9.2" fill="#666666" stroke="#666666" stroke-width="0.25">120</text>
<text x="250.20" y="310.8" text-anchor="middle" font-size="9.2" fill="#666666" stroke="#666666" stroke-width="0.25">0</text>
<text x="275.40" y="310.8" text-anchor="middle" font-size="9.2" fill="#666666" stroke="#666666" stroke-width="0.25">200</text>
<text x="300.60" y="310.8" text-anchor="middle" font-size="9.2" fill="#666666" stroke="#666666" stroke-width="0.25">400</text>
<text x="325.80" y="310.8" text-anchor="middle" font-size="9.2" fill="#666666" stroke="#666666" stroke-width="0.25">600</text>
<text x="351.00" y="310.8" text-anchor="middle" font-size="9.2" fill="#666666" stroke="#666666" stroke-width="0.25">800</text>
<text x="376.20" y="310.8" text-anchor="middle" font-size="9.2" fill="#666666" stroke="#666666" stroke-width="0.25">1000</text>
<text transform="translate(223.84,276.5) rotate(-90)" x="0" y="0" text-anchor="middle" font-size="10.4" fill="#666666" stroke="#666666" stroke-width="0.25" textLength="67" lengthAdjust="spacingAndGlyphs">Weight loss (%)</text>
<text x="277.4" y="328.8" font-size="10.5" fill="#666666" stroke="#666666" stroke-width="0.25" textLength="73.70" lengthAdjust="spacingAndGlyphs">Temperature (°C)</text>
<text x="296.95" y="225.9" font-size="9" fill="#222" stroke="#222" stroke-width="0.2" textLength="9.7" lengthAdjust="spacingAndGlyphs">(d)</text>
<line x1="215.5" y1="351.3" x2="234.2" y2="351.3" stroke="#3094D8" stroke-width="1.8"/>
<text x="235.7" y="354.53" font-size="9.5" fill="#666666" stroke="#666666" stroke-width="0.2" textLength="20.4" lengthAdjust="spacingAndGlyphs">S4G0</text>
<line x1="260.1" y1="351.3" x2="278.8" y2="351.3" stroke="#F7700F" stroke-width="1.8"/>
<text x="280.3" y="354.53" font-size="9.5" fill="#666666" stroke="#666666" stroke-width="0.2" textLength="20.4" lengthAdjust="spacingAndGlyphs">S4G1</text>
<line x1="305.1" y1="351.3" x2="323.8" y2="351.3" stroke="#A3A3A3" stroke-width="1.8"/>
<text x="325.3" y="354.53" font-size="9.5" fill="#666666" stroke="#666666" stroke-width="0.2" textLength="20.4" lengthAdjust="spacingAndGlyphs">S4G2</text>
<line x1="348.4" y1="351.3" x2="367.09999999999997" y2="351.3" stroke="#FFBA08" stroke-width="1.8"/>
<text x="368.59999999999997" y="354.53" font-size="9.5" fill="#666666" stroke="#666666" stroke-width="0.2" textLength="20.4" lengthAdjust="spacingAndGlyphs">S4G3</text>
<defs><linearGradient id="bge" gradientUnits="userSpaceOnUse" x1="120.9" y1="0" x2="318.2" y2="0"><stop offset="0%" stop-color="#DDF0D8"/><stop offset="23.77%" stop-color="#DDF0D8"/><stop offset="27.32%" stop-color="#FDE3D6"/><stop offset="39.79%" stop-color="#FDE3D6"/><stop offset="43.84%" stop-color="#FFF0CB"/><stop offset="100%" stop-color="#FFF0CB"/></linearGradient></defs>
<rect x="120.9" y="385" width="197.30" height="83.00" fill="url(#bge)"/>
<path d="M125.83,398.87 L126.70,398.88 L127.56,398.90 L128.43,398.94 L129.29,398.98 L130.16,399.03 L131.02,399.10 L131.89,399.17 L132.76,399.25 L133.62,399.33 L134.49,399.43 L135.35,399.54 L136.22,399.67 L137.08,399.83 L137.95,400.03 L138.81,400.26 L139.68,400.51 L140.54,400.78 L141.41,401.05 L142.27,401.32 L143.14,401.60 L144.00,401.88 L144.87,402.17 L145.74,402.46 L146.60,402.77 L147.47,403.08 L148.33,403.38 L149.20,403.67 L150.06,403.95 L150.93,404.22 L151.79,404.46 L152.66,404.68 L153.52,404.87 L154.39,405.05 L155.25,405.21 L156.12,405.36 L156.99,405.50 L157.85,405.63 L158.72,405.76 L159.58,405.87 L160.45,405.97 L161.31,406.06 L162.18,406.14 L163.04,406.21 L163.91,406.28 L164.77,406.34 L165.64,406.40 L166.50,406.47 L167.37,406.53 L168.23,406.60 L169.10,406.68 L169.97,406.76 L170.83,406.85 L171.70,406.95 L172.56,407.06 L173.43,407.20 L174.29,407.37 L175.16,407.60 L176.02,407.90 L176.89,408.30 L177.75,408.79 L178.62,409.36 L179.48,409.99 L180.35,410.66 L181.21,411.37 L182.08,412.13 L182.95,412.94 L183.81,413.84 L184.68,414.82 L185.54,415.92 L186.41,417.17 L187.27,418.60 L188.14,420.27 L189.00,422.24 L189.87,424.61 L190.73,427.41 L191.60,430.59 L192.46,433.92 L193.33,437.14 L194.20,440.07 L195.06,442.62 L195.93,444.75 L196.79,446.49 L197.66,447.90 L198.52,449.02 L199.39,449.92 L200.25,450.64 L201.12,451.24 L201.98,451.76 L202.85,452.22 L203.71,452.65 L204.58,453.05 L205.44,453.42 L206.31,453.76 L207.18,454.08 L208.04,454.38 L208.91,454.66 L209.77,454.92 L210.64,455.16 L211.50,455.39 L212.37,455.60 L213.23,455.79 L214.10,455.96 L214.96,456.10 L215.83,456.23 L216.69,456.34 L217.56,456.45 L218.43,456.55 L219.29,456.64 L220.16,456.73 L221.02,456.81 L221.89,456.89 L222.75,456.96 L223.62,457.03 L224.48,457.10 L225.35,457.16 L226.21,457.22 L227.08,457.27 L227.94,457.33 L228.81,457.38 L229.67,457.42 L230.54,457.47 L231.41,457.51 L232.27,457.55 L233.14,457.58 L234.00,457.62 L234.87,457.65 L235.73,457.68 L236.60,457.71 L237.46,457.74 L238.33,457.77 L239.19,457.79 L240.06,457.82 L240.92,457.85 L241.79,457.88 L242.65,457.91 L243.52,457.94 L244.39,457.97 L245.25,457.99 L246.12,458.02 L246.98,458.05 L247.85,458.08 L248.71,458.11 L249.58,458.14 L250.44,458.16 L251.31,458.19 L252.17,458.22 L253.04,458.25 L253.90,458.28 L254.77,458.30 L255.64,458.33 L256.50,458.36 L257.37,458.39 L258.23,458.42 L259.10,458.45 L259.96,458.48 L260.83,458.51 L261.69,458.54 L262.56,458.57 L263.42,458.60 L264.29,458.63 L265.15,458.66 L266.02,458.69 L266.88,458.72 L267.75,458.76 L268.62,458.79 L269.48,458.82 L270.35,458.85 L271.21,458.89 L272.08,458.92 L272.94,458.95 L273.81,458.98 L274.67,459.01 L275.54,459.05 L276.40,459.08 L277.27,459.11 L278.13,459.15 L279.00,459.18 L279.86,459.21 L280.73,459.24 L281.60,459.28 L282.46,459.31 L283.33,459.34 L284.19,459.37 L285.06,459.41 L285.92,459.44 L286.79,459.47 L287.65,459.51 L288.52,459.54 L289.38,459.57 L290.25,459.61 L291.11,459.64 L291.98,459.67 L292.85,459.71 L293.71,459.74 L294.58,459.77 L295.44,459.81 L296.31,459.84 L297.17,459.87 L298.47,459.91" fill="none" stroke="#A3A6CF" stroke-width="1.3" stroke-linejoin="round" stroke-linecap="round"/>
<path d="M125.83,398.59 L126.70,398.61 L127.56,398.63 L128.43,398.66 L129.29,398.71 L130.16,398.76 L131.02,398.82 L131.89,398.89 L132.76,398.97 L133.62,399.06 L134.49,399.15 L135.35,399.26 L136.22,399.39 L137.08,399.54 L137.95,399.72 L138.81,399.94 L139.68,400.17 L140.54,400.41 L141.41,400.66 L142.27,400.92 L143.14,401.18 L144.00,401.44 L144.87,401.71 L145.74,401.99 L146.60,402.28 L147.47,402.57 L148.33,402.86 L149.20,403.14 L150.06,403.42 L150.93,403.67 L151.79,403.91 L152.66,404.13 L153.52,404.32 L154.39,404.51 L155.25,404.68 L156.12,404.84 L156.99,404.99 L157.85,405.13 L158.72,405.26 L159.58,405.37 L160.45,405.48 L161.31,405.58 L162.18,405.67 L163.04,405.75 L163.91,405.82 L164.77,405.89 L165.64,405.96 L166.50,406.03 L167.37,406.10 L168.23,406.17 L169.10,406.25 L169.97,406.34 L170.83,406.44 L171.70,406.54 L172.56,406.65 L173.43,406.79 L174.29,406.96 L175.16,407.18 L176.02,407.49 L176.89,407.89 L177.75,408.38 L178.62,408.95 L179.48,409.57 L180.35,410.25 L181.21,410.96 L182.08,411.71 L182.95,412.53 L183.81,413.42 L184.68,414.41 L185.54,415.51 L186.41,416.76 L187.27,418.19 L188.14,419.85 L189.00,421.83 L189.87,424.21 L190.73,427.04 L191.60,430.25 L192.46,433.61 L193.33,436.85 L194.20,439.80 L195.06,442.34 L195.93,444.47 L196.79,446.21 L197.66,447.62 L198.52,448.75 L199.39,449.64 L200.25,450.37 L201.12,450.97 L201.98,451.48 L202.85,451.95 L203.71,452.38 L204.58,452.77 L205.44,453.14 L206.31,453.49 L207.18,453.81 L208.04,454.10 L208.91,454.38 L209.77,454.64 L210.64,454.89 L211.50,455.12 L212.37,455.33 L213.23,455.51 L214.10,455.68 L214.96,455.83 L215.83,455.95 L216.69,456.07 L217.56,456.17 L218.43,456.27 L219.29,456.36 L220.16,456.45 L221.02,456.53 L221.89,456.61 L222.75,456.69 L223.62,456.76 L224.48,456.82 L225.35,456.88 L226.21,456.94 L227.08,457.00 L227.94,457.05 L228.81,457.10 L229.67,457.15 L230.54,457.19 L231.41,457.23 L232.27,457.27 L233.14,457.31 L234.00,457.34 L234.87,457.37 L235.73,457.40 L236.60,457.43 L237.46,457.46 L238.33,457.49 L239.19,457.52 L240.06,457.55 L240.92,457.57 L241.79,457.60 L242.65,457.63 L243.52,457.66 L244.39,457.69 L245.25,457.72 L246.12,457.75 L246.98,457.78 L247.85,457.80 L248.71,457.83 L249.58,457.86 L250.44,457.89 L251.31,457.92 L252.17,457.94 L253.04,457.97 L253.90,458.00 L254.77,458.03 L255.64,458.06 L256.50,458.08 L257.37,458.11 L258.23,458.14 L259.10,458.17 L259.96,458.20 L260.83,458.23 L261.69,458.26 L262.56,458.29 L263.42,458.32 L264.29,458.35 L265.15,458.39 L266.02,458.42 L266.88,458.45 L267.75,458.48 L268.62,458.51 L269.48,458.54 L270.35,458.58 L271.21,458.61 L272.08,458.64 L272.94,458.67 L273.81,458.71 L274.67,458.74 L275.54,458.77 L276.40,458.80 L277.27,458.84 L278.13,458.87 L279.00,458.90 L279.86,458.93 L280.73,458.97 L281.60,459.00 L282.46,459.03 L283.33,459.07 L284.19,459.10 L285.06,459.13 L285.92,459.16 L286.79,459.20 L287.65,459.23 L288.52,459.26 L289.38,459.30 L290.25,459.33 L291.11,459.36 L291.98,459.40 L292.85,459.43 L293.71,459.46 L294.58,459.50 L295.44,459.53 L296.31,459.56 L297.17,459.60 L298.47,459.63" fill="none" stroke="#F2B23E" stroke-width="1.3" stroke-linejoin="round" stroke-linecap="round"/>
<path d="M120.9,385.2 L120.9,468.0 L318.2,468.0" fill="none" stroke="#000" stroke-width="1.6"/>
<path d="M117.9,468.00 L120.9,468.00 M117.9,454.20 L120.9,454.20 M117.9,440.40 L120.9,440.40 M117.9,426.60 L120.9,426.60 M117.9,412.80 L120.9,412.80 M117.9,399.00 L120.9,399.00 M117.9,385.20 L120.9,385.20 M120.90,468.0 L120.90,471.0 M160.36,468.0 L160.36,471.0 M199.82,468.0 L199.82,471.0 M239.28,468.0 L239.28,471.0 M278.74,468.0 L278.74,471.0 M318.20,468.0 L318.20,471.0" stroke="#000" stroke-width="1.6"/>
<text x="112.2" y="471.04" text-anchor="end" font-size="9.2" fill="#737373" stroke="#737373" stroke-width="0.1">0</text>
<text x="112.2" y="457.24" text-anchor="end" font-size="9.2" fill="#737373" stroke="#737373" stroke-width="0.1">20</text>
<text x="112.2" y="443.44" text-anchor="end" font-size="9.2" fill="#737373" stroke="#737373" stroke-width="0.1">40</text>
<text x="112.2" y="429.64" text-anchor="end" font-size="9.2" fill="#737373" stroke="#737373" stroke-width="0.1">60</text>
<text x="112.2" y="415.84" text-anchor="end" font-size="9.2" fill="#737373" stroke="#737373" stroke-width="0.1">80</text>
<text x="112.2" y="402.04" text-anchor="end" font-size="9.2" fill="#737373" stroke="#737373" stroke-width="0.1">100</text>
<text x="112.2" y="388.24" text-anchor="end" font-size="9.2" fill="#737373" stroke="#737373" stroke-width="0.1">120</text>
<text x="120.90" y="483.1" text-anchor="middle" font-size="9.2" fill="#737373" stroke="#737373" stroke-width="0.1">0</text>
<text x="160.36" y="483.1" text-anchor="middle" font-size="9.2" fill="#737373" stroke="#737373" stroke-width="0.1">200</text>
<text x="199.82" y="483.1" text-anchor="middle" font-size="9.2" fill="#737373" stroke="#737373" stroke-width="0.1">400</text>
<text x="239.28" y="483.1" text-anchor="middle" font-size="9.2" fill="#737373" stroke="#737373" stroke-width="0.1">600</text>
<text x="278.74" y="483.1" text-anchor="middle" font-size="9.2" fill="#737373" stroke="#737373" stroke-width="0.1">800</text>
<text x="318.20" y="483.1" text-anchor="middle" font-size="9.2" fill="#737373" stroke="#737373" stroke-width="0.1">1000</text>
<text transform="translate(93.99,426.2) rotate(-90)" x="0" y="0" text-anchor="middle" font-size="9.3" fill="#737373" stroke="#737373" stroke-width="0.1" textLength="59.4" lengthAdjust="spacingAndGlyphs">Weight loss (%)</text>
<text x="186.5" y="497.7" font-size="9.0" fill="#737373" stroke="#737373" stroke-width="0.1" textLength="66.80" lengthAdjust="spacingAndGlyphs">Temperature (°C)</text>
<text x="207.35" y="378.3" font-size="9" fill="#222" stroke="#222" stroke-width="0.2" textLength="9.7" lengthAdjust="spacingAndGlyphs">(e)</text>
<line x1="115.4" y1="505.5" x2="133.9" y2="505.5" stroke="#78B4E6" stroke-width="1"/>
<text x="135.70000000000002" y="508.73" font-size="9.5" fill="#737373" stroke="#737373" stroke-width="0.0" textLength="20.4" lengthAdjust="spacingAndGlyphs">S5G0</text>
<line x1="164.2" y1="505.5" x2="182.7" y2="505.5" stroke="#F5A97E" stroke-width="1"/>
<text x="184.5" y="508.73" font-size="9.5" fill="#737373" stroke="#737373" stroke-width="0.0" textLength="20.4" lengthAdjust="spacingAndGlyphs">S5G1</text>
<line x1="213.1" y1="505.5" x2="231.6" y2="505.5" stroke="#C4C4C4" stroke-width="1"/>
<text x="233.4" y="508.73" font-size="9.5" fill="#737373" stroke="#737373" stroke-width="0.0" textLength="20.4" lengthAdjust="spacingAndGlyphs">S5G2</text>
<line x1="259.7" y1="505.5" x2="278.2" y2="505.5" stroke="#FFD24A" stroke-width="1"/>
<text x="280.0" y="508.73" font-size="9.5" fill="#737373" stroke="#737373" stroke-width="0.0" textLength="20.4" lengthAdjust="spacingAndGlyphs">S5G3</text>
<rect x="8.6" y="8.0" width="397" height="534.9" fill="none" stroke="#111" stroke-width="1.6"/>
</svg></body></html>
